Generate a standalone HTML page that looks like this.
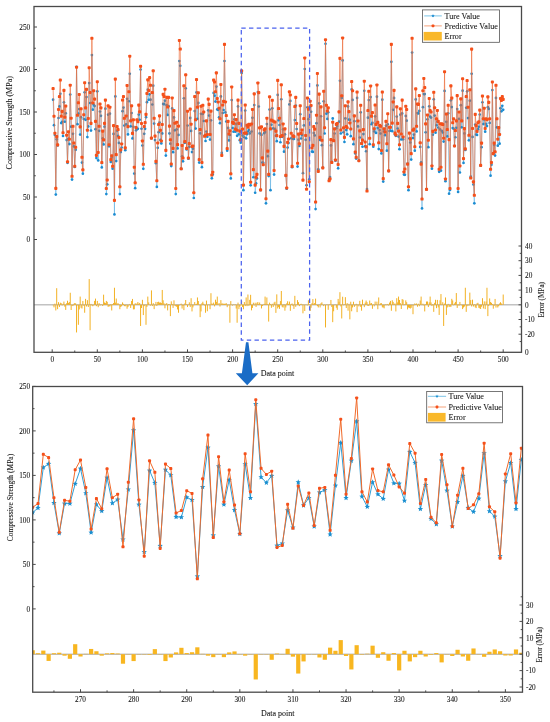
<!DOCTYPE html><html><head><meta charset="utf-8"><title>Compressive Strength Prediction</title><style>html,body{margin:0;padding:0;background:#fff;width:550px;height:722px;overflow:hidden}svg{display:block;filter:blur(0.3px)}</style></head><body><svg width="550" height="722" viewBox="0 0 550 722"><rect width="550" height="722" fill="#fff"/><clipPath id="c1"><rect x="34" y="6.5" width="487.5" height="345.8"/></clipPath><g clip-path="url(#c1)"><line x1="34" y1="304.8" x2="521.5" y2="304.8" stroke="#c2c2c2" stroke-width="1.5"/><g fill="#f2ad18"><rect x="52.63" y="304.8" width="0.95" height="0.45"/><rect x="53.53" y="304.8" width="0.95" height="2.56"/><rect x="54.43" y="303.64" width="0.95" height="1.16"/><rect x="55.33" y="304.8" width="0.95" height="5.65"/><rect x="56.23" y="288.19" width="0.95" height="16.61"/><rect x="57.14" y="304.8" width="0.95" height="4.39"/><rect x="58.04" y="302.16" width="0.95" height="2.64"/><rect x="58.94" y="304.8" width="0.95" height="2.19"/><rect x="59.84" y="302.69" width="0.95" height="2.11"/><rect x="60.74" y="303.2" width="0.95" height="1.6"/><rect x="61.65" y="304.8" width="0.95" height="0.61"/><rect x="62.55" y="303.78" width="0.95" height="1.02"/><rect x="63.45" y="301.57" width="0.95" height="3.23"/><rect x="64.35" y="304.8" width="0.95" height="1.95"/><rect x="65.26" y="304.8" width="0.95" height="5.1"/><rect x="66.16" y="303.25" width="0.95" height="1.55"/><rect x="67.06" y="300.73" width="0.95" height="4.07"/><rect x="67.96" y="302.96" width="0.95" height="1.84"/><rect x="68.86" y="301.99" width="0.95" height="2.81"/><rect x="69.77" y="292.75" width="0.95" height="12.05"/><rect x="70.67" y="304.8" width="0.95" height="5.2"/><rect x="71.57" y="304.8" width="0.95" height="0.74"/><rect x="72.47" y="304.8" width="0.95" height="1.29"/><rect x="73.37" y="303.79" width="0.95" height="1.01"/><rect x="74.28" y="303.04" width="0.95" height="1.76"/><rect x="75.18" y="303.35" width="0.95" height="1.45"/><rect x="76.08" y="304.8" width="0.95" height="27.64"/><rect x="76.98" y="304.8" width="0.95" height="0.52"/><rect x="77.88" y="304.8" width="0.95" height="19.99"/><rect x="78.79" y="304.8" width="0.95" height="4.63"/><rect x="79.69" y="296.57" width="0.95" height="8.23"/><rect x="80.59" y="304.8" width="0.95" height="2.96"/><rect x="81.49" y="304.8" width="0.95" height="3.71"/><rect x="82.39" y="300.97" width="0.95" height="3.83"/><rect x="83.3" y="304.8" width="0.95" height="0.89"/><rect x="84.2" y="304.8" width="0.95" height="7.94"/><rect x="85.1" y="298.85" width="0.95" height="5.95"/><rect x="86" y="304.8" width="0.95" height="1.69"/><rect x="86.9" y="300.16" width="0.95" height="4.64"/><rect x="87.81" y="304.8" width="0.95" height="2.19"/><rect x="88.71" y="279.07" width="0.95" height="25.73"/><rect x="89.61" y="304.8" width="0.95" height="25.43"/><rect x="90.51" y="303.89" width="0.95" height="0.91"/><rect x="91.41" y="304.8" width="0.95" height="0.65"/><rect x="92.32" y="304.8" width="0.95" height="1.43"/><rect x="93.22" y="304.8" width="0.95" height="0.56"/><rect x="94.12" y="300.88" width="0.95" height="3.92"/><rect x="95.02" y="298.6" width="0.95" height="6.2"/><rect x="95.92" y="304.8" width="0.95" height="1.36"/><rect x="96.83" y="300.91" width="0.95" height="3.89"/><rect x="97.73" y="304.8" width="0.95" height="2.41"/><rect x="98.63" y="303.05" width="0.95" height="1.75"/><rect x="99.53" y="304.8" width="0.95" height="0.8"/><rect x="100.43" y="304.24" width="0.95" height="0.56"/><rect x="101.34" y="304.74" width="0.95" height="0.3"/><rect x="102.24" y="304.8" width="0.95" height="1.23"/><rect x="103.14" y="294.66" width="0.95" height="10.14"/><rect x="104.04" y="302.46" width="0.95" height="2.34"/><rect x="104.94" y="303.1" width="0.95" height="1.7"/><rect x="105.85" y="300.91" width="0.95" height="3.89"/><rect x="106.75" y="301.81" width="0.95" height="2.99"/><rect x="107.65" y="304.8" width="0.95" height="2.05"/><rect x="108.55" y="304.8" width="0.95" height="1.43"/><rect x="109.45" y="304.8" width="0.95" height="1.61"/><rect x="110.36" y="304.06" width="0.95" height="0.74"/><rect x="111.26" y="304.8" width="0.95" height="5.66"/><rect x="112.16" y="304.14" width="0.95" height="0.66"/><rect x="113.06" y="303.1" width="0.95" height="1.7"/><rect x="113.96" y="287.75" width="0.95" height="17.05"/><rect x="114.87" y="302.58" width="0.95" height="2.22"/><rect x="115.77" y="298.54" width="0.95" height="6.26"/><rect x="116.67" y="303.67" width="0.95" height="1.13"/><rect x="117.57" y="303.15" width="0.95" height="1.65"/><rect x="118.47" y="304.21" width="0.95" height="0.59"/><rect x="119.38" y="304.8" width="0.95" height="4.42"/><rect x="120.28" y="304.8" width="0.95" height="2.2"/><rect x="121.18" y="304.8" width="0.95" height="1.37"/><rect x="122.08" y="302.39" width="0.95" height="2.41"/><rect x="122.98" y="303.87" width="0.95" height="0.93"/><rect x="123.89" y="304.8" width="0.95" height="1.32"/><rect x="124.79" y="304.8" width="0.95" height="1.46"/><rect x="125.69" y="304.76" width="0.95" height="0.3"/><rect x="126.59" y="304.8" width="0.95" height="3.91"/><rect x="127.49" y="304.8" width="0.95" height="2.24"/><rect x="128.4" y="304.8" width="0.95" height="0.58"/><rect x="129.3" y="303.94" width="0.95" height="0.86"/><rect x="130.2" y="304.8" width="0.95" height="3.14"/><rect x="131.1" y="300.94" width="0.95" height="3.86"/><rect x="132" y="298.92" width="0.95" height="5.88"/><rect x="132.91" y="304.8" width="0.95" height="4.57"/><rect x="133.81" y="304.8" width="0.95" height="4.48"/><rect x="134.71" y="303.2" width="0.95" height="1.6"/><rect x="135.61" y="303.92" width="0.95" height="0.88"/><rect x="136.51" y="303.43" width="0.95" height="1.37"/><rect x="137.41" y="302.01" width="0.95" height="2.79"/><rect x="138.32" y="303.81" width="0.95" height="0.99"/><rect x="139.22" y="302.94" width="0.95" height="1.86"/><rect x="140.12" y="304.8" width="0.95" height="21.17"/><rect x="141.02" y="304.8" width="0.95" height="3.21"/><rect x="141.93" y="299.82" width="0.95" height="4.98"/><rect x="142.83" y="304.8" width="0.95" height="10.29"/><rect x="143.73" y="304.8" width="0.95" height="1.34"/><rect x="144.63" y="304.54" width="0.95" height="0.3"/><rect x="145.53" y="304.8" width="0.95" height="19.99"/><rect x="146.44" y="304.8" width="0.95" height="2.05"/><rect x="147.34" y="296.57" width="0.95" height="8.23"/><rect x="148.24" y="302.37" width="0.95" height="2.43"/><rect x="149.14" y="304.8" width="0.95" height="0.3"/><rect x="150.04" y="304.8" width="0.95" height="0.78"/><rect x="150.95" y="290.39" width="0.95" height="14.41"/><rect x="151.85" y="304.8" width="0.95" height="1.26"/><rect x="152.75" y="303.12" width="0.95" height="1.68"/><rect x="153.65" y="304.8" width="0.95" height="4.34"/><rect x="154.55" y="304.8" width="0.95" height="0.62"/><rect x="155.46" y="301.9" width="0.95" height="2.9"/><rect x="156.36" y="304.8" width="0.95" height="1.22"/><rect x="157.26" y="302.03" width="0.95" height="2.77"/><rect x="158.16" y="301.72" width="0.95" height="3.08"/><rect x="159.06" y="302.62" width="0.95" height="2.18"/><rect x="159.97" y="302.44" width="0.95" height="2.36"/><rect x="160.87" y="303.01" width="0.95" height="1.79"/><rect x="161.77" y="289.95" width="0.95" height="14.85"/><rect x="162.67" y="300.26" width="0.95" height="4.54"/><rect x="163.57" y="303.32" width="0.95" height="1.48"/><rect x="164.47" y="304.8" width="0.95" height="3.51"/><rect x="165.38" y="303.78" width="0.95" height="1.02"/><rect x="166.28" y="303.03" width="0.95" height="1.77"/><rect x="167.18" y="304.8" width="0.95" height="5.59"/><rect x="168.08" y="304.03" width="0.95" height="0.77"/><rect x="168.99" y="304.31" width="0.95" height="0.49"/><rect x="169.89" y="304.8" width="0.95" height="11.32"/><rect x="170.79" y="301.34" width="0.95" height="3.46"/><rect x="171.69" y="303.94" width="0.95" height="0.86"/><rect x="172.59" y="304.8" width="0.95" height="3.11"/><rect x="173.5" y="300.31" width="0.95" height="4.49"/><rect x="174.4" y="304.8" width="0.95" height="0.83"/><rect x="175.3" y="304.8" width="0.95" height="1.42"/><rect x="176.2" y="304.8" width="0.95" height="1.96"/><rect x="177.1" y="304.8" width="0.95" height="4.64"/><rect x="178.01" y="304.8" width="0.95" height="7.94"/><rect x="178.91" y="304.8" width="0.95" height="0.66"/><rect x="179.81" y="304.35" width="0.95" height="0.45"/><rect x="180.71" y="303.63" width="0.95" height="1.17"/><rect x="181.61" y="304.8" width="0.95" height="3.76"/><rect x="182.52" y="304.8" width="0.95" height="0.91"/><rect x="183.42" y="304.8" width="0.95" height="5.33"/><rect x="184.32" y="303.45" width="0.95" height="1.35"/><rect x="185.22" y="299.99" width="0.95" height="4.81"/><rect x="186.12" y="304.29" width="0.95" height="0.51"/><rect x="187.03" y="304.8" width="0.95" height="2.25"/><rect x="187.93" y="304.8" width="0.95" height="0.3"/><rect x="188.83" y="302.32" width="0.95" height="2.48"/><rect x="189.73" y="304.8" width="0.95" height="2.22"/><rect x="190.63" y="298.19" width="0.95" height="6.62"/><rect x="191.53" y="304.8" width="0.95" height="6.62"/><rect x="192.44" y="304.8" width="0.95" height="2.57"/><rect x="193.34" y="304.8" width="0.95" height="0.51"/><rect x="194.24" y="302.06" width="0.95" height="2.74"/><rect x="195.14" y="304.25" width="0.95" height="0.55"/><rect x="196.04" y="303.8" width="0.95" height="1"/><rect x="196.95" y="297.45" width="0.95" height="7.35"/><rect x="197.85" y="301.05" width="0.95" height="3.75"/><rect x="198.75" y="304.8" width="0.95" height="0.3"/><rect x="199.65" y="304.8" width="0.95" height="12.35"/><rect x="200.56" y="304.8" width="0.95" height="6.62"/><rect x="201.46" y="303.13" width="0.95" height="1.67"/><rect x="202.36" y="301.72" width="0.95" height="3.08"/><rect x="203.26" y="303.71" width="0.95" height="1.09"/><rect x="204.16" y="304.8" width="0.95" height="0.69"/><rect x="205.07" y="304.8" width="0.95" height="7.94"/><rect x="205.97" y="300.61" width="0.95" height="4.19"/><rect x="206.87" y="304.8" width="0.95" height="6.46"/><rect x="207.77" y="304.72" width="0.95" height="0.3"/><rect x="208.67" y="304.8" width="0.95" height="0.37"/><rect x="209.58" y="304.8" width="0.95" height="4.41"/><rect x="210.48" y="293.19" width="0.95" height="11.61"/><rect x="211.38" y="303.45" width="0.95" height="1.35"/><rect x="212.28" y="303.87" width="0.95" height="0.93"/><rect x="213.18" y="302.57" width="0.95" height="2.23"/><rect x="214.09" y="304.8" width="0.95" height="1.61"/><rect x="214.99" y="299.67" width="0.95" height="5.13"/><rect x="215.89" y="301.88" width="0.95" height="2.92"/><rect x="216.79" y="296.57" width="0.95" height="8.23"/><rect x="217.69" y="304.45" width="0.95" height="0.35"/><rect x="218.59" y="302.99" width="0.95" height="1.81"/><rect x="219.5" y="304.8" width="0.95" height="1.75"/><rect x="220.4" y="300.09" width="0.95" height="4.71"/><rect x="221.3" y="303.51" width="0.95" height="1.29"/><rect x="222.2" y="303.53" width="0.95" height="1.27"/><rect x="223.1" y="303.73" width="0.95" height="1.07"/><rect x="224.01" y="303.76" width="0.95" height="1.04"/><rect x="224.91" y="303.7" width="0.95" height="1.1"/><rect x="225.81" y="303.2" width="0.95" height="1.6"/><rect x="226.71" y="304.8" width="0.95" height="2.39"/><rect x="227.62" y="304.8" width="0.95" height="0.67"/><rect x="228.52" y="304.8" width="0.95" height="0.3"/><rect x="229.42" y="304.8" width="0.95" height="17.93"/><rect x="230.32" y="301.07" width="0.95" height="3.73"/><rect x="231.22" y="304.8" width="0.95" height="0.32"/><rect x="232.13" y="304.8" width="0.95" height="0.82"/><rect x="233.03" y="304.47" width="0.95" height="0.33"/><rect x="233.93" y="304.8" width="0.95" height="0.3"/><rect x="234.83" y="304.31" width="0.95" height="0.49"/><rect x="235.73" y="304.8" width="0.95" height="3.72"/><rect x="236.64" y="304.8" width="0.95" height="17.93"/><rect x="237.54" y="302.6" width="0.95" height="2.2"/><rect x="238.44" y="304.8" width="0.95" height="4.36"/><rect x="239.34" y="304.8" width="0.95" height="2.02"/><rect x="240.24" y="304.8" width="0.95" height="0.53"/><rect x="241.15" y="300.98" width="0.95" height="3.82"/><rect x="242.05" y="304.8" width="0.95" height="2.21"/><rect x="242.95" y="304.8" width="0.95" height="4.46"/><rect x="243.85" y="302.05" width="0.95" height="2.75"/><rect x="244.75" y="304.8" width="0.95" height="1.28"/><rect x="245.66" y="297.45" width="0.95" height="7.35"/><rect x="246.56" y="304.8" width="0.95" height="1.34"/><rect x="247.46" y="294.51" width="0.95" height="10.29"/><rect x="248.36" y="304.8" width="0.95" height="0.91"/><rect x="249.26" y="299.83" width="0.95" height="4.97"/><rect x="250.16" y="294.8" width="0.95" height="10"/><rect x="251.07" y="304.8" width="0.95" height="5.55"/><rect x="251.97" y="304.8" width="0.95" height="3.12"/><rect x="252.87" y="302.68" width="0.95" height="2.12"/><rect x="253.77" y="304.8" width="0.95" height="0.57"/><rect x="254.68" y="302.7" width="0.95" height="2.1"/><rect x="255.58" y="304.8" width="0.95" height="2.14"/><rect x="256.48" y="302.68" width="0.95" height="2.12"/><rect x="257.38" y="302.05" width="0.95" height="2.75"/><rect x="258.28" y="304.13" width="0.95" height="0.67"/><rect x="259.19" y="302.48" width="0.95" height="2.32"/><rect x="260.09" y="304.53" width="0.95" height="0.3"/><rect x="260.99" y="304.8" width="0.95" height="3.65"/><rect x="261.89" y="304.8" width="0.95" height="1.23"/><rect x="262.79" y="304.8" width="0.95" height="0.31"/><rect x="263.69" y="303.86" width="0.95" height="0.94"/><rect x="264.6" y="296.57" width="0.95" height="8.23"/><rect x="265.5" y="303.75" width="0.95" height="1.05"/><rect x="266.4" y="297.45" width="0.95" height="7.35"/><rect x="267.3" y="304.17" width="0.95" height="0.63"/><rect x="268.2" y="304.8" width="0.95" height="16.76"/><rect x="269.11" y="302.65" width="0.95" height="2.15"/><rect x="270.01" y="304.08" width="0.95" height="0.72"/><rect x="270.91" y="304.8" width="0.95" height="2.98"/><rect x="271.81" y="303.76" width="0.95" height="1.04"/><rect x="272.71" y="304.8" width="0.95" height="2.19"/><rect x="273.62" y="302.49" width="0.95" height="2.31"/><rect x="274.52" y="301.75" width="0.95" height="3.05"/><rect x="275.42" y="304.8" width="0.95" height="8.08"/><rect x="276.32" y="294.36" width="0.95" height="10.44"/><rect x="277.22" y="304.8" width="0.95" height="3.68"/><rect x="278.13" y="304.8" width="0.95" height="2.3"/><rect x="279.03" y="304.8" width="0.95" height="4.05"/><rect x="279.93" y="301.05" width="0.95" height="3.75"/><rect x="280.83" y="290.98" width="0.95" height="13.82"/><rect x="281.74" y="304.8" width="0.95" height="2.3"/><rect x="282.64" y="304.8" width="0.95" height="2.75"/><rect x="283.54" y="304.26" width="0.95" height="0.54"/><rect x="284.44" y="304.8" width="0.95" height="5.88"/><rect x="285.34" y="304.8" width="0.95" height="2.67"/><rect x="286.25" y="303.34" width="0.95" height="1.46"/><rect x="287.15" y="301.27" width="0.95" height="3.53"/><rect x="288.05" y="303.92" width="0.95" height="0.88"/><rect x="288.95" y="301.57" width="0.95" height="3.23"/><rect x="289.85" y="304.8" width="0.95" height="6.03"/><rect x="290.75" y="303.92" width="0.95" height="0.88"/><rect x="291.66" y="303.48" width="0.95" height="1.32"/><rect x="292.56" y="304.8" width="0.95" height="1.32"/><rect x="293.46" y="304.8" width="0.95" height="4.12"/><rect x="294.36" y="295.83" width="0.95" height="8.97"/><rect x="295.26" y="304.8" width="0.95" height="2.06"/><rect x="296.17" y="304.51" width="0.95" height="0.3"/><rect x="297.07" y="300.1" width="0.95" height="4.7"/><rect x="297.97" y="302.15" width="0.95" height="2.65"/><rect x="298.87" y="304.8" width="0.95" height="1.32"/><rect x="299.77" y="304.06" width="0.95" height="0.74"/><rect x="300.68" y="303.77" width="0.95" height="1.03"/><rect x="301.58" y="304.21" width="0.95" height="0.59"/><rect x="302.48" y="304.8" width="0.95" height="8.53"/><rect x="303.38" y="304.65" width="0.95" height="0.3"/><rect x="304.28" y="304.8" width="0.95" height="6.17"/><rect x="305.19" y="304.65" width="0.95" height="0.3"/><rect x="306.09" y="304.8" width="0.95" height="0.3"/><rect x="306.99" y="304.8" width="0.95" height="0.59"/><rect x="307.89" y="300.24" width="0.95" height="4.56"/><rect x="308.79" y="304.65" width="0.95" height="0.3"/><rect x="309.7" y="304.8" width="0.95" height="6.17"/><rect x="310.6" y="304.8" width="0.95" height="2.94"/><rect x="311.5" y="303.18" width="0.95" height="1.62"/><rect x="312.4" y="299.07" width="0.95" height="5.73"/><rect x="313.3" y="303.77" width="0.95" height="1.03"/><rect x="314.21" y="303.04" width="0.95" height="1.76"/><rect x="315.11" y="298.63" width="0.95" height="6.17"/><rect x="316.01" y="304.51" width="0.95" height="0.3"/><rect x="316.91" y="304.8" width="0.95" height="1.32"/><rect x="317.81" y="304.8" width="0.95" height="2.65"/><rect x="318.72" y="304.65" width="0.95" height="0.3"/><rect x="319.62" y="304.8" width="0.95" height="2.65"/><rect x="320.52" y="303.18" width="0.95" height="1.62"/><rect x="321.42" y="302.3" width="0.95" height="2.5"/><rect x="322.32" y="304.65" width="0.95" height="0.3"/><rect x="323.23" y="304.8" width="0.95" height="1.32"/><rect x="324.13" y="304.65" width="0.95" height="0.3"/><rect x="325.03" y="304.8" width="0.95" height="22.64"/><rect x="325.93" y="304.65" width="0.95" height="0.3"/><rect x="326.83" y="304.65" width="0.95" height="0.3"/><rect x="327.74" y="304.8" width="0.95" height="5"/><rect x="328.64" y="304.21" width="0.95" height="0.59"/><rect x="329.54" y="304.65" width="0.95" height="0.3"/><rect x="330.44" y="299.95" width="0.95" height="4.85"/><rect x="331.34" y="304.8" width="0.95" height="2.2"/><rect x="332.25" y="304.8" width="0.95" height="17.35"/><rect x="333.15" y="304.8" width="0.95" height="6.47"/><rect x="334.05" y="304.8" width="0.95" height="0.3"/><rect x="334.95" y="304.65" width="0.95" height="0.3"/><rect x="335.85" y="304.8" width="0.95" height="2.94"/><rect x="336.76" y="304.8" width="0.95" height="5"/><rect x="337.66" y="298.92" width="0.95" height="5.88"/><rect x="338.56" y="301.71" width="0.95" height="3.09"/><rect x="339.46" y="292.16" width="0.95" height="12.64"/><rect x="340.36" y="304.8" width="0.95" height="1.62"/><rect x="341.27" y="304.8" width="0.95" height="13.67"/><rect x="342.17" y="296.72" width="0.95" height="8.08"/><rect x="343.07" y="304.8" width="0.95" height="0.44"/><rect x="343.97" y="304.36" width="0.95" height="0.44"/><rect x="344.88" y="297.16" width="0.95" height="7.64"/><rect x="345.78" y="304.8" width="0.95" height="3.23"/><rect x="346.68" y="303.04" width="0.95" height="1.76"/><rect x="347.58" y="304.8" width="0.95" height="5.88"/><rect x="348.48" y="303.77" width="0.95" height="1.03"/><rect x="349.38" y="304.8" width="0.95" height="14.55"/><rect x="350.29" y="301.71" width="0.95" height="3.09"/><rect x="351.19" y="304.8" width="0.95" height="6.47"/><rect x="352.09" y="304.8" width="0.95" height="2.65"/><rect x="352.99" y="301.71" width="0.95" height="3.09"/><rect x="353.89" y="304.8" width="0.95" height="2.06"/><rect x="354.8" y="304.8" width="0.95" height="0.59"/><rect x="355.7" y="303.77" width="0.95" height="1.03"/><rect x="356.6" y="304.8" width="0.95" height="7.35"/><rect x="357.5" y="304.65" width="0.95" height="0.3"/><rect x="358.4" y="304.8" width="0.95" height="1.62"/><rect x="359.31" y="300.83" width="0.95" height="3.97"/><rect x="360.21" y="304.8" width="0.95" height="2.06"/><rect x="361.11" y="304.8" width="0.95" height="5.88"/><rect x="362.01" y="299.66" width="0.95" height="5.14"/><rect x="362.91" y="304.65" width="0.95" height="0.3"/><rect x="363.82" y="304.8" width="0.95" height="2.35"/><rect x="364.72" y="302.6" width="0.95" height="2.2"/><rect x="365.62" y="300.54" width="0.95" height="4.26"/><rect x="366.52" y="302.15" width="0.95" height="2.65"/><rect x="367.42" y="304.8" width="0.95" height="1.18"/><rect x="368.33" y="304.8" width="0.95" height="1.18"/><rect x="369.23" y="300.54" width="0.95" height="4.26"/><rect x="370.13" y="303.48" width="0.95" height="1.32"/><rect x="371.03" y="303.1" width="0.95" height="1.7"/><rect x="371.94" y="304.8" width="0.95" height="3.99"/><rect x="372.84" y="304.37" width="0.95" height="0.43"/><rect x="373.74" y="304.8" width="0.95" height="1.56"/><rect x="374.64" y="301.56" width="0.95" height="3.24"/><rect x="375.54" y="304.67" width="0.95" height="0.3"/><rect x="376.44" y="301.63" width="0.95" height="3.17"/><rect x="377.35" y="304.8" width="0.95" height="4.41"/><rect x="378.25" y="297.45" width="0.95" height="7.35"/><rect x="379.15" y="304.8" width="0.95" height="0.3"/><rect x="380.05" y="303.38" width="0.95" height="1.42"/><rect x="380.95" y="303.16" width="0.95" height="1.64"/><rect x="381.86" y="304.8" width="0.95" height="2.53"/><rect x="382.76" y="304.8" width="0.95" height="2.73"/><rect x="383.66" y="304.8" width="0.95" height="3.55"/><rect x="384.56" y="304.8" width="0.95" height="0.52"/><rect x="385.46" y="304.11" width="0.95" height="0.69"/><rect x="386.37" y="304.8" width="0.95" height="0.43"/><rect x="387.27" y="303.95" width="0.95" height="0.85"/><rect x="388.17" y="304.8" width="0.95" height="0.75"/><rect x="389.07" y="302.54" width="0.95" height="2.26"/><rect x="389.97" y="300.91" width="0.95" height="3.89"/><rect x="390.88" y="304.8" width="0.95" height="5.95"/><rect x="391.78" y="300.23" width="0.95" height="4.57"/><rect x="392.68" y="301.9" width="0.95" height="2.9"/><rect x="393.58" y="304.06" width="0.95" height="0.74"/><rect x="394.48" y="303.38" width="0.95" height="1.42"/><rect x="395.39" y="304.8" width="0.95" height="6.62"/><rect x="396.29" y="298.19" width="0.95" height="6.62"/><rect x="397.19" y="302.36" width="0.95" height="2.44"/><rect x="398.09" y="296.57" width="0.95" height="8.23"/><rect x="398.99" y="299.97" width="0.95" height="4.83"/><rect x="399.9" y="303.14" width="0.95" height="1.66"/><rect x="400.8" y="304.8" width="0.95" height="4.19"/><rect x="401.7" y="299.07" width="0.95" height="5.73"/><rect x="402.6" y="299.69" width="0.95" height="5.11"/><rect x="403.5" y="304.8" width="0.95" height="0.48"/><rect x="404.41" y="304.13" width="0.95" height="0.67"/><rect x="405.31" y="300.34" width="0.95" height="4.46"/><rect x="406.21" y="302.17" width="0.95" height="2.63"/><rect x="407.11" y="304.8" width="0.95" height="4.62"/><rect x="408.01" y="304.8" width="0.95" height="2.72"/><rect x="408.92" y="304.8" width="0.95" height="3.16"/><rect x="409.82" y="304.8" width="0.95" height="3.76"/><rect x="410.72" y="304.8" width="0.95" height="3"/><rect x="411.62" y="304.8" width="0.95" height="0.55"/><rect x="412.52" y="304.8" width="0.95" height="9.41"/><rect x="413.43" y="304.8" width="0.95" height="0.62"/><rect x="414.33" y="303.41" width="0.95" height="1.39"/><rect x="415.23" y="304.1" width="0.95" height="0.7"/><rect x="416.13" y="303.42" width="0.95" height="1.38"/><rect x="417.03" y="304.8" width="0.95" height="1.93"/><rect x="417.94" y="303.73" width="0.95" height="1.07"/><rect x="418.84" y="304.8" width="0.95" height="1.44"/><rect x="419.74" y="300.5" width="0.95" height="4.3"/><rect x="420.64" y="296.57" width="0.95" height="8.23"/><rect x="421.54" y="304.8" width="0.95" height="0.34"/><rect x="422.45" y="303.65" width="0.95" height="1.15"/><rect x="423.35" y="304.8" width="0.95" height="0.65"/><rect x="424.25" y="304.8" width="0.95" height="6.62"/><rect x="425.15" y="304.26" width="0.95" height="0.54"/><rect x="426.05" y="301.52" width="0.95" height="3.28"/><rect x="426.96" y="301.47" width="0.95" height="3.33"/><rect x="427.86" y="304.8" width="0.95" height="2.25"/><rect x="428.76" y="302.32" width="0.95" height="2.48"/><rect x="429.66" y="296.57" width="0.95" height="8.23"/><rect x="430.56" y="302.43" width="0.95" height="2.37"/><rect x="431.47" y="304.8" width="0.95" height="1.27"/><rect x="432.37" y="304.1" width="0.95" height="0.7"/><rect x="433.27" y="304.8" width="0.95" height="7.06"/><rect x="434.17" y="302.81" width="0.95" height="1.99"/><rect x="435.07" y="299.76" width="0.95" height="5.04"/><rect x="435.98" y="304.8" width="0.95" height="3.35"/><rect x="436.88" y="299.91" width="0.95" height="4.89"/><rect x="437.78" y="304.8" width="0.95" height="2.62"/><rect x="438.68" y="304.8" width="0.95" height="10.14"/><rect x="439.58" y="300.22" width="0.95" height="4.58"/><rect x="440.49" y="294.07" width="0.95" height="10.73"/><rect x="441.39" y="304.8" width="0.95" height="0.3"/><rect x="442.29" y="302.21" width="0.95" height="2.59"/><rect x="443.19" y="304.8" width="0.95" height="21.17"/><rect x="444.09" y="303.56" width="0.95" height="1.24"/><rect x="445" y="297.45" width="0.95" height="7.35"/><rect x="445.9" y="304.8" width="0.95" height="10.14"/><rect x="446.8" y="304.8" width="0.95" height="2.65"/><rect x="447.7" y="303.84" width="0.95" height="0.96"/><rect x="448.6" y="304.8" width="0.95" height="2.24"/><rect x="449.51" y="304.8" width="0.95" height="1.74"/><rect x="450.41" y="304.8" width="0.95" height="2.12"/><rect x="451.31" y="298.81" width="0.95" height="5.99"/><rect x="452.21" y="300.42" width="0.95" height="4.38"/><rect x="453.11" y="304.8" width="0.95" height="0.45"/><rect x="454.02" y="303.47" width="0.95" height="1.33"/><rect x="454.92" y="301.95" width="0.95" height="2.85"/><rect x="455.82" y="293.04" width="0.95" height="11.76"/><rect x="456.72" y="304.8" width="0.95" height="3.1"/><rect x="457.62" y="304.29" width="0.95" height="0.51"/><rect x="458.53" y="304.8" width="0.95" height="0.94"/><rect x="459.43" y="301.91" width="0.95" height="2.89"/><rect x="460.33" y="304.55" width="0.95" height="0.3"/><rect x="461.23" y="304.8" width="0.95" height="0.52"/><rect x="462.13" y="304.8" width="0.95" height="4.28"/><rect x="463.04" y="304.8" width="0.95" height="2.76"/><rect x="463.94" y="304.8" width="0.95" height="1.77"/><rect x="464.84" y="287.75" width="0.95" height="17.05"/><rect x="465.74" y="304.8" width="0.95" height="7.06"/><rect x="466.64" y="304.8" width="0.95" height="1.38"/><rect x="467.55" y="304.43" width="0.95" height="0.37"/><rect x="468.45" y="304.8" width="0.95" height="0.96"/><rect x="469.35" y="292.6" width="0.95" height="12.2"/><rect x="470.25" y="300.06" width="0.95" height="4.74"/><rect x="471.15" y="304.8" width="0.95" height="1.67"/><rect x="472.06" y="299.66" width="0.95" height="5.14"/><rect x="472.96" y="304.8" width="0.95" height="1.71"/><rect x="473.86" y="304.26" width="0.95" height="0.54"/><rect x="474.76" y="304.8" width="0.95" height="2.64"/><rect x="475.66" y="304.8" width="0.95" height="3.31"/><rect x="476.57" y="303.31" width="0.95" height="1.49"/><rect x="477.47" y="302.77" width="0.95" height="2.03"/><rect x="478.37" y="304.8" width="0.95" height="3.03"/><rect x="479.27" y="304.8" width="0.95" height="3.54"/><rect x="480.17" y="304.8" width="0.95" height="4.2"/><rect x="481.08" y="304.8" width="0.95" height="1.95"/><rect x="481.98" y="298.19" width="0.95" height="6.62"/><rect x="482.88" y="304.8" width="0.95" height="3.69"/><rect x="483.78" y="301.37" width="0.95" height="3.43"/><rect x="484.69" y="304.8" width="0.95" height="4.33"/><rect x="485.59" y="301.48" width="0.95" height="3.32"/><rect x="486.49" y="287.75" width="0.95" height="17.05"/><rect x="487.39" y="304.8" width="0.95" height="11.32"/><rect x="488.29" y="304.8" width="0.95" height="1.13"/><rect x="489.19" y="298.41" width="0.95" height="6.39"/><rect x="490.1" y="302" width="0.95" height="2.8"/><rect x="491" y="302.86" width="0.95" height="1.94"/><rect x="491.9" y="303.99" width="0.95" height="0.81"/><rect x="492.8" y="304.8" width="0.95" height="3.89"/><rect x="493.7" y="304.8" width="0.95" height="1.03"/><rect x="494.61" y="298.92" width="0.95" height="5.88"/><rect x="495.51" y="304.8" width="0.95" height="2.78"/><rect x="496.41" y="304.8" width="0.95" height="0.36"/><rect x="497.31" y="304.8" width="0.95" height="2.7"/><rect x="498.21" y="304.8" width="0.95" height="1.4"/><rect x="499.12" y="303.42" width="0.95" height="1.38"/><rect x="500.02" y="302.2" width="0.95" height="2.6"/><rect x="500.92" y="303.44" width="0.95" height="1.36"/><rect x="501.82" y="304.58" width="0.95" height="0.3"/><rect x="502.72" y="294.51" width="0.95" height="10.29"/></g><polyline points="53.1,99.7 54,125.14 54.91,134.92 55.81,194.62 56.71,139.3 57.61,145.5 58.51,117.99 59.42,106.43 60.32,93.73 61.22,123.05 62.12,121.79 63.02,135.98 63.93,102.25 64.83,121.75 65.73,113.24 66.63,140.07 67.53,162.79 68.44,138.58 69.34,144.05 70.24,94.49 71.14,126.63 72.04,179.55 72.95,133.87 73.85,146.41 74.75,167 75.65,149.84 76.55,66.95 77.46,124.18 78.36,113.54 79.26,109 80.16,134.6 81.06,117.13 81.97,162.53 82.87,173.64 83.77,118.99 84.67,92.37 85.57,119.83 86.48,97.08 87.38,137.03 88.28,126.46 89.18,83.06 90.08,103.02 90.99,130.58 91.89,55.05 92.79,109.69 93.69,104.58 94.59,106.03 95.5,129.15 96.4,158.03 97.3,91.28 98.2,160.47 99.1,130.84 100.01,111.52 100.91,115.86 101.81,167.45 102.71,138.28 103.61,144.47 104.52,126.68 105.42,108.71 106.32,194.03 107.22,184.28 108.12,114.64 109.03,146.34 109.93,113.63 110.83,161.95 111.73,157.52 112.63,168.71 113.54,133.94 114.44,214.43 115.34,96.39 116.24,161.11 117.14,130.76 118.05,135.93 118.95,142.9 119.85,194.03 120.75,152.11 121.65,147.51 122.56,111.2 123.46,107.58 124.36,125.62 125.26,150.21 126.16,124.3 127.07,98.77 127.97,134.39 128.87,101.25 129.77,73.75 130.67,126.37 131.58,113 132.48,138.38 133.38,126.74 134.28,173.6 135.18,188.16 136.09,130.29 136.99,128.84 137.89,128.81 138.79,114.56 139.69,119.73 140.6,69.5 141.5,128.75 142.4,145.49 143.3,168.87 144.2,133.84 145.11,128.84 146.01,117.17 146.91,102.14 147.81,89.63 148.71,99.86 149.62,94.35 150.52,99.71 151.42,138.19 152.32,104.48 153.22,85.68 154.13,123.59 155.03,140.12 155.93,163.19 156.83,186.9 157.73,147.86 158.64,132.21 159.54,122.5 160.44,139.91 161.34,143.39 162.24,133.38 163.15,103.92 164.05,104.2 164.95,100.68 165.85,155.56 166.75,105.17 167.66,114.97 168.56,106.18 169.46,133.42 170.36,143.72 171.26,166.12 172.17,108.47 173.07,152.15 173.97,117.41 174.87,130.32 175.77,194.03 176.68,129.41 177.58,148.41 178.48,134.9 179.38,61 180.28,65.75 181.19,168.9 182.09,156.24 182.99,161.34 183.89,98.23 184.79,142.84 185.7,88.35 186.6,149.5 187.5,125.62 188.4,158.7 189.3,146.86 190.21,117.89 191.11,130.93 192.01,152.11 192.91,148.67 193.81,198.02 194.72,111.03 195.62,128.61 196.52,92.39 197.42,118.78 198.32,102.93 199.23,162.56 200.13,133.28 201.03,113.81 201.93,167.2 202.83,113.91 203.74,121.01 204.64,135.48 205.54,141 206.44,131.5 207.34,136.68 208.25,110.31 209.15,115.62 210.05,139.62 210.95,120.3 211.85,178.36 212.76,174.48 213.66,92.95 214.56,95.64 215.46,101.56 216.36,86.62 217.27,109.42 218.17,109.96 219.07,117.37 219.97,123.16 220.87,96.46 221.78,152.88 222.68,113 223.58,110 224.48,61 225.38,112.47 226.29,121.52 227.19,150.7 228.09,127.94 228.99,140.39 229.89,134.99 230.8,178.45 231.7,100.05 232.6,128 233.5,131.77 234.4,119.24 235.31,131.66 236.21,123.87 237.11,135.79 238.01,106.43 238.91,134.35 239.82,140.2 240.72,142.72 241.62,72.9 242.52,135.72 243.42,190.2 244.33,137.25 245.23,110.51 246.13,138.3 247.03,134.21 247.93,131.48 248.84,129.85 249.74,133.42 250.64,185.32 251.54,131.48 252.44,117.87 253.35,177.26 254.25,104.99 255.15,192.75 256.05,183.29 256.95,178.39 257.86,92.08 258.76,106.48 259.66,133.45 260.56,190.2 261.46,134.96 262.37,162.56 263.27,162.83 264.17,133.18 265.07,131.89 265.97,203.29 266.88,124.09 267.78,156.18 268.68,176.1 269.58,109.61 270.48,190.2 271.39,124.75 272.29,108.35 273.19,128.43 274.09,174.6 274.99,128.97 275.9,135.76 276.8,141.17 277.7,94.89 278.6,120.14 279.5,125 280.41,142.23 281.31,99.23 282.21,136.85 283.11,129.28 284.01,151.65 284.92,134.33 285.82,175.94 286.72,188.67 287.62,147.53 288.52,143.03 289.43,104.44 290.33,100.95 291.23,138.35 292.13,167.25 293.03,138.94 293.94,138.94 294.84,120.08 295.74,105.54 296.64,129 297.54,166.57 298.45,139.71 299.35,146 300.25,114.21 301.15,138.52 302.05,135.12 302.96,173.2 303.86,125.43 304.76,68.99 305.66,139.8 306.56,185.19 307.47,107.33 308.37,119.14 309.27,179.32 310.17,106.56 311.07,111.83 311.98,151.61 312.88,151.95 313.78,132.91 314.68,135.46 315.58,209.07 316.49,123.14 317.39,85.39 318.29,169.29 319.19,103.33 320.09,139.88 321,116.25 321.9,145.15 322.8,167.84 323.7,101.29 324.6,133.5 325.51,43.83 326.41,113.7 327.31,118.97 328.21,112.34 329.11,179.06 330.02,177.03 330.92,145.41 331.82,161.73 332.72,118.46 333.62,140.65 334.53,133.5 335.43,160.7 336.33,128.24 337.23,126.03 338.13,168.36 339.04,121.69 339.94,80.81 340.84,133.5 341.74,97.89 342.64,60.41 343.55,132.23 344.45,142 345.35,118.46 346.25,130.02 347.15,134.36 348.06,106.39 348.96,119.57 349.86,119.82 350.76,136.14 351.66,89.47 352.57,99.93 353.47,144.13 354.37,121.18 355.27,153.4 356.17,158.58 357.08,97.89 357.98,126.45 358.88,160.7 359.78,137.5 360.68,112.34 361.59,143.03 362.49,146.76 363.39,134.1 364.29,90.75 365.19,146.17 366.1,151.27 367,189.01 367.9,117.69 368.8,100.1 369.7,144.13 370.61,97.12 371.51,124.27 372.41,122.8 373.31,146.7 374.21,131.44 375.12,116.31 376.02,132.91 376.92,96.65 377.82,128.1 378.72,149.05 379.63,130.05 380.53,133.48 381.43,153.39 382.33,99.7 383.23,181.54 384.14,131.46 385.04,135.17 385.94,125.85 386.84,150.63 387.74,124.23 388.65,171.08 389.55,130.99 390.45,130.63 391.35,61.85 392.25,131.22 393.16,109.87 394.06,97.9 394.96,134.46 395.86,135.78 396.76,116.58 397.67,128.49 398.57,136.57 399.47,149.2 400.37,114.7 401.27,139.52 402.18,113.39 403.08,139.29 403.98,174.59 404.88,174.78 405.78,115.92 406.69,120.69 407.59,163.68 408.49,190.2 409.39,138.31 410.29,142.52 411.2,159.62 412.1,52.5 413,138.1 413.9,134.6 414.8,150.68 415.71,99.44 416.61,131.42 417.51,113.07 418.41,113.51 419.31,110.92 420.22,146.88 421.12,162.24 422.02,208.47 422.92,107.2 423.82,94.1 424.73,94.03 425.63,132.3 426.53,189.14 427.43,119.33 428.33,147.15 429.24,106.23 430.14,116.59 431.04,117.54 431.94,168.72 432.84,134.64 433.75,99.29 434.65,115.62 435.55,132.66 436.45,125.19 437.35,121.72 438.26,127.62 439.16,171.87 440.06,129.38 440.96,170.63 441.86,130.93 442.77,132.51 443.67,141.54 444.57,90.96 445.47,181.14 446.37,121.83 447.28,136.39 448.18,113.31 449.08,193.69 449.98,189.88 450.88,100.37 451.79,107.08 452.69,128 453.59,128.65 454.49,145.96 455.39,137.25 456.3,127.74 457.2,109.09 458.1,191.9 459,118.87 459.9,172.51 460.81,105.15 461.71,127.29 462.61,90.66 463.51,162.96 464.41,133.44 465.32,149.89 466.22,107.74 467.12,91.33 468.02,118.08 468.92,140.37 469.83,100.67 470.73,176.68 471.63,73.75 472.53,136.94 473.43,184.51 474.34,203.29 475.24,124.59 476.14,134.53 477.04,134.99 477.94,129.18 478.85,126.74 479.75,114.52 480.65,165.64 481.55,147.17 482.45,102.27 483.36,124.08 484.26,119.47 485.16,131.64 486.06,123.73 486.96,126.06 487.87,107.15 488.77,108.96 489.67,122.92 490.57,175.7 491.47,164.76 492.38,90.1 493.28,153.36 494.18,145.02 495.08,155.55 495.98,97.95 496.89,127.29 497.79,145.7 498.69,127.5 499.59,143.72 500.49,108.17 501.4,111.32 502.3,105.83 503.2,109.81" fill="none" stroke="#46a5dc" stroke-width="0.5" stroke-linejoin="round"/><g fill="#1b8cd2"><circle cx="53.1" cy="99.7" r="1.35"/><circle cx="54" cy="125.14" r="1.35"/><circle cx="54.91" cy="134.92" r="1.35"/><circle cx="55.81" cy="194.62" r="1.35"/><circle cx="56.71" cy="139.3" r="1.35"/><circle cx="57.61" cy="145.5" r="1.35"/><circle cx="58.51" cy="117.99" r="1.35"/><circle cx="59.42" cy="106.43" r="1.35"/><circle cx="60.32" cy="93.73" r="1.35"/><circle cx="61.22" cy="123.05" r="1.35"/><circle cx="62.12" cy="121.79" r="1.35"/><circle cx="63.02" cy="135.98" r="1.35"/><circle cx="63.93" cy="102.25" r="1.35"/><circle cx="64.83" cy="121.75" r="1.35"/><circle cx="65.73" cy="113.24" r="1.35"/><circle cx="66.63" cy="140.07" r="1.35"/><circle cx="67.53" cy="162.79" r="1.35"/><circle cx="68.44" cy="138.58" r="1.35"/><circle cx="69.34" cy="144.05" r="1.35"/><circle cx="70.24" cy="94.49" r="1.35"/><circle cx="71.14" cy="126.63" r="1.35"/><circle cx="72.04" cy="179.55" r="1.35"/><circle cx="72.95" cy="133.87" r="1.35"/><circle cx="73.85" cy="146.41" r="1.35"/><circle cx="74.75" cy="167" r="1.35"/><circle cx="75.65" cy="149.84" r="1.35"/><circle cx="76.55" cy="66.95" r="1.35"/><circle cx="77.46" cy="124.18" r="1.35"/><circle cx="78.36" cy="113.54" r="1.35"/><circle cx="79.26" cy="109" r="1.35"/><circle cx="80.16" cy="134.6" r="1.35"/><circle cx="81.06" cy="117.13" r="1.35"/><circle cx="81.97" cy="162.53" r="1.35"/><circle cx="82.87" cy="173.64" r="1.35"/><circle cx="83.77" cy="118.99" r="1.35"/><circle cx="84.67" cy="92.37" r="1.35"/><circle cx="85.57" cy="119.83" r="1.35"/><circle cx="86.48" cy="97.08" r="1.35"/><circle cx="87.38" cy="137.03" r="1.35"/><circle cx="88.28" cy="126.46" r="1.35"/><circle cx="89.18" cy="83.06" r="1.35"/><circle cx="90.08" cy="103.02" r="1.35"/><circle cx="90.99" cy="130.58" r="1.35"/><circle cx="91.89" cy="55.05" r="1.35"/><circle cx="92.79" cy="109.69" r="1.35"/><circle cx="93.69" cy="104.58" r="1.35"/><circle cx="94.59" cy="106.03" r="1.35"/><circle cx="95.5" cy="129.15" r="1.35"/><circle cx="96.4" cy="158.03" r="1.35"/><circle cx="97.3" cy="91.28" r="1.35"/><circle cx="98.2" cy="160.47" r="1.35"/><circle cx="99.1" cy="130.84" r="1.35"/><circle cx="100.01" cy="111.52" r="1.35"/><circle cx="100.91" cy="115.86" r="1.35"/><circle cx="101.81" cy="167.45" r="1.35"/><circle cx="102.71" cy="138.28" r="1.35"/><circle cx="103.61" cy="144.47" r="1.35"/><circle cx="104.52" cy="126.68" r="1.35"/><circle cx="105.42" cy="108.71" r="1.35"/><circle cx="106.32" cy="194.03" r="1.35"/><circle cx="107.22" cy="184.28" r="1.35"/><circle cx="108.12" cy="114.64" r="1.35"/><circle cx="109.03" cy="146.34" r="1.35"/><circle cx="109.93" cy="113.63" r="1.35"/><circle cx="110.83" cy="161.95" r="1.35"/><circle cx="111.73" cy="157.52" r="1.35"/><circle cx="112.63" cy="168.71" r="1.35"/><circle cx="113.54" cy="133.94" r="1.35"/><circle cx="114.44" cy="214.43" r="1.35"/><circle cx="115.34" cy="96.39" r="1.35"/><circle cx="116.24" cy="161.11" r="1.35"/><circle cx="117.14" cy="130.76" r="1.35"/><circle cx="118.05" cy="135.93" r="1.35"/><circle cx="118.95" cy="142.9" r="1.35"/><circle cx="119.85" cy="194.03" r="1.35"/><circle cx="120.75" cy="152.11" r="1.35"/><circle cx="121.65" cy="147.51" r="1.35"/><circle cx="122.56" cy="111.2" r="1.35"/><circle cx="123.46" cy="107.58" r="1.35"/><circle cx="124.36" cy="125.62" r="1.35"/><circle cx="125.26" cy="150.21" r="1.35"/><circle cx="126.16" cy="124.3" r="1.35"/><circle cx="127.07" cy="98.77" r="1.35"/><circle cx="127.97" cy="134.39" r="1.35"/><circle cx="128.87" cy="101.25" r="1.35"/><circle cx="129.77" cy="73.75" r="1.35"/><circle cx="130.67" cy="126.37" r="1.35"/><circle cx="131.58" cy="113" r="1.35"/><circle cx="132.48" cy="138.38" r="1.35"/><circle cx="133.38" cy="126.74" r="1.35"/><circle cx="134.28" cy="173.6" r="1.35"/><circle cx="135.18" cy="188.16" r="1.35"/><circle cx="136.09" cy="130.29" r="1.35"/><circle cx="136.99" cy="128.84" r="1.35"/><circle cx="137.89" cy="128.81" r="1.35"/><circle cx="138.79" cy="114.56" r="1.35"/><circle cx="139.69" cy="119.73" r="1.35"/><circle cx="140.6" cy="69.5" r="1.35"/><circle cx="141.5" cy="128.75" r="1.35"/><circle cx="142.4" cy="145.49" r="1.35"/><circle cx="143.3" cy="168.87" r="1.35"/><circle cx="144.2" cy="133.84" r="1.35"/><circle cx="145.11" cy="128.84" r="1.35"/><circle cx="146.01" cy="117.17" r="1.35"/><circle cx="146.91" cy="102.14" r="1.35"/><circle cx="147.81" cy="89.63" r="1.35"/><circle cx="148.71" cy="99.86" r="1.35"/><circle cx="149.62" cy="94.35" r="1.35"/><circle cx="150.52" cy="99.71" r="1.35"/><circle cx="151.42" cy="138.19" r="1.35"/><circle cx="152.32" cy="104.48" r="1.35"/><circle cx="153.22" cy="85.68" r="1.35"/><circle cx="154.13" cy="123.59" r="1.35"/><circle cx="155.03" cy="140.12" r="1.35"/><circle cx="155.93" cy="163.19" r="1.35"/><circle cx="156.83" cy="186.9" r="1.35"/><circle cx="157.73" cy="147.86" r="1.35"/><circle cx="158.64" cy="132.21" r="1.35"/><circle cx="159.54" cy="122.5" r="1.35"/><circle cx="160.44" cy="139.91" r="1.35"/><circle cx="161.34" cy="143.39" r="1.35"/><circle cx="162.24" cy="133.38" r="1.35"/><circle cx="163.15" cy="103.92" r="1.35"/><circle cx="164.05" cy="104.2" r="1.35"/><circle cx="164.95" cy="100.68" r="1.35"/><circle cx="165.85" cy="155.56" r="1.35"/><circle cx="166.75" cy="105.17" r="1.35"/><circle cx="167.66" cy="114.97" r="1.35"/><circle cx="168.56" cy="106.18" r="1.35"/><circle cx="169.46" cy="133.42" r="1.35"/><circle cx="170.36" cy="143.72" r="1.35"/><circle cx="171.26" cy="166.12" r="1.35"/><circle cx="172.17" cy="108.47" r="1.35"/><circle cx="173.07" cy="152.15" r="1.35"/><circle cx="173.97" cy="117.41" r="1.35"/><circle cx="174.87" cy="130.32" r="1.35"/><circle cx="175.77" cy="194.03" r="1.35"/><circle cx="176.68" cy="129.41" r="1.35"/><circle cx="177.58" cy="148.41" r="1.35"/><circle cx="178.48" cy="134.9" r="1.35"/><circle cx="179.38" cy="61" r="1.35"/><circle cx="180.28" cy="65.75" r="1.35"/><circle cx="181.19" cy="168.9" r="1.35"/><circle cx="182.09" cy="156.24" r="1.35"/><circle cx="182.99" cy="161.34" r="1.35"/><circle cx="183.89" cy="98.23" r="1.35"/><circle cx="184.79" cy="142.84" r="1.35"/><circle cx="185.7" cy="88.35" r="1.35"/><circle cx="186.6" cy="149.5" r="1.35"/><circle cx="187.5" cy="125.62" r="1.35"/><circle cx="188.4" cy="158.7" r="1.35"/><circle cx="189.3" cy="146.86" r="1.35"/><circle cx="190.21" cy="117.89" r="1.35"/><circle cx="191.11" cy="130.93" r="1.35"/><circle cx="192.01" cy="152.11" r="1.35"/><circle cx="192.91" cy="148.67" r="1.35"/><circle cx="193.81" cy="198.02" r="1.35"/><circle cx="194.72" cy="111.03" r="1.35"/><circle cx="195.62" cy="128.61" r="1.35"/><circle cx="196.52" cy="92.39" r="1.35"/><circle cx="197.42" cy="118.78" r="1.35"/><circle cx="198.32" cy="102.93" r="1.35"/><circle cx="199.23" cy="162.56" r="1.35"/><circle cx="200.13" cy="133.28" r="1.35"/><circle cx="201.03" cy="113.81" r="1.35"/><circle cx="201.93" cy="167.2" r="1.35"/><circle cx="202.83" cy="113.91" r="1.35"/><circle cx="203.74" cy="121.01" r="1.35"/><circle cx="204.64" cy="135.48" r="1.35"/><circle cx="205.54" cy="141" r="1.35"/><circle cx="206.44" cy="131.5" r="1.35"/><circle cx="207.34" cy="136.68" r="1.35"/><circle cx="208.25" cy="110.31" r="1.35"/><circle cx="209.15" cy="115.62" r="1.35"/><circle cx="210.05" cy="139.62" r="1.35"/><circle cx="210.95" cy="120.3" r="1.35"/><circle cx="211.85" cy="178.36" r="1.35"/><circle cx="212.76" cy="174.48" r="1.35"/><circle cx="213.66" cy="92.95" r="1.35"/><circle cx="214.56" cy="95.64" r="1.35"/><circle cx="215.46" cy="101.56" r="1.35"/><circle cx="216.36" cy="86.62" r="1.35"/><circle cx="217.27" cy="109.42" r="1.35"/><circle cx="218.17" cy="109.96" r="1.35"/><circle cx="219.07" cy="117.37" r="1.35"/><circle cx="219.97" cy="123.16" r="1.35"/><circle cx="220.87" cy="96.46" r="1.35"/><circle cx="221.78" cy="152.88" r="1.35"/><circle cx="222.68" cy="113" r="1.35"/><circle cx="223.58" cy="110" r="1.35"/><circle cx="224.48" cy="61" r="1.35"/><circle cx="225.38" cy="112.47" r="1.35"/><circle cx="226.29" cy="121.52" r="1.35"/><circle cx="227.19" cy="150.7" r="1.35"/><circle cx="228.09" cy="127.94" r="1.35"/><circle cx="228.99" cy="140.39" r="1.35"/><circle cx="229.89" cy="134.99" r="1.35"/><circle cx="230.8" cy="178.45" r="1.35"/><circle cx="231.7" cy="100.05" r="1.35"/><circle cx="232.6" cy="128" r="1.35"/><circle cx="233.5" cy="131.77" r="1.35"/><circle cx="234.4" cy="119.24" r="1.35"/><circle cx="235.31" cy="131.66" r="1.35"/><circle cx="236.21" cy="123.87" r="1.35"/><circle cx="237.11" cy="135.79" r="1.35"/><circle cx="238.01" cy="106.43" r="1.35"/><circle cx="238.91" cy="134.35" r="1.35"/><circle cx="239.82" cy="140.2" r="1.35"/><circle cx="240.72" cy="142.72" r="1.35"/><circle cx="241.62" cy="72.9" r="1.35"/><circle cx="242.52" cy="135.72" r="1.35"/><circle cx="243.42" cy="190.2" r="1.35"/><circle cx="244.33" cy="137.25" r="1.35"/><circle cx="245.23" cy="110.51" r="1.35"/><circle cx="246.13" cy="138.3" r="1.35"/><circle cx="247.03" cy="134.21" r="1.35"/><circle cx="247.93" cy="131.48" r="1.35"/><circle cx="248.84" cy="129.85" r="1.35"/><circle cx="249.74" cy="133.42" r="1.35"/><circle cx="250.64" cy="185.32" r="1.35"/><circle cx="251.54" cy="131.48" r="1.35"/><circle cx="252.44" cy="117.87" r="1.35"/><circle cx="253.35" cy="177.26" r="1.35"/><circle cx="254.25" cy="104.99" r="1.35"/><circle cx="255.15" cy="192.75" r="1.35"/><circle cx="256.05" cy="183.29" r="1.35"/><circle cx="256.95" cy="178.39" r="1.35"/><circle cx="257.86" cy="92.08" r="1.35"/><circle cx="258.76" cy="106.48" r="1.35"/><circle cx="259.66" cy="133.45" r="1.35"/><circle cx="260.56" cy="190.2" r="1.35"/><circle cx="261.46" cy="134.96" r="1.35"/><circle cx="262.37" cy="162.56" r="1.35"/><circle cx="263.27" cy="162.83" r="1.35"/><circle cx="264.17" cy="133.18" r="1.35"/><circle cx="265.07" cy="131.89" r="1.35"/><circle cx="265.97" cy="203.29" r="1.35"/><circle cx="266.88" cy="124.09" r="1.35"/><circle cx="267.78" cy="156.18" r="1.35"/><circle cx="268.68" cy="176.1" r="1.35"/><circle cx="269.58" cy="109.61" r="1.35"/><circle cx="270.48" cy="190.2" r="1.35"/><circle cx="271.39" cy="124.75" r="1.35"/><circle cx="272.29" cy="108.35" r="1.35"/><circle cx="273.19" cy="128.43" r="1.35"/><circle cx="274.09" cy="174.6" r="1.35"/><circle cx="274.99" cy="128.97" r="1.35"/><circle cx="275.9" cy="135.76" r="1.35"/><circle cx="276.8" cy="141.17" r="1.35"/><circle cx="277.7" cy="94.89" r="1.35"/><circle cx="278.6" cy="120.14" r="1.35"/><circle cx="279.5" cy="125" r="1.35"/><circle cx="280.41" cy="142.23" r="1.35"/><circle cx="281.31" cy="99.23" r="1.35"/><circle cx="282.21" cy="136.85" r="1.35"/><circle cx="283.11" cy="129.28" r="1.35"/><circle cx="284.01" cy="151.65" r="1.35"/><circle cx="284.92" cy="134.33" r="1.35"/><circle cx="285.82" cy="175.94" r="1.35"/><circle cx="286.72" cy="188.67" r="1.35"/><circle cx="287.62" cy="147.53" r="1.35"/><circle cx="288.52" cy="143.03" r="1.35"/><circle cx="289.43" cy="104.44" r="1.35"/><circle cx="290.33" cy="100.95" r="1.35"/><circle cx="291.23" cy="138.35" r="1.35"/><circle cx="292.13" cy="167.25" r="1.35"/><circle cx="293.03" cy="138.94" r="1.35"/><circle cx="293.94" cy="138.94" r="1.35"/><circle cx="294.84" cy="120.08" r="1.35"/><circle cx="295.74" cy="105.54" r="1.35"/><circle cx="296.64" cy="129" r="1.35"/><circle cx="297.54" cy="166.57" r="1.35"/><circle cx="298.45" cy="139.71" r="1.35"/><circle cx="299.35" cy="146" r="1.35"/><circle cx="300.25" cy="114.21" r="1.35"/><circle cx="301.15" cy="138.52" r="1.35"/><circle cx="302.05" cy="135.12" r="1.35"/><circle cx="302.96" cy="173.2" r="1.35"/><circle cx="303.86" cy="125.43" r="1.35"/><circle cx="304.76" cy="68.99" r="1.35"/><circle cx="305.66" cy="139.8" r="1.35"/><circle cx="306.56" cy="185.19" r="1.35"/><circle cx="307.47" cy="107.33" r="1.35"/><circle cx="308.37" cy="119.14" r="1.35"/><circle cx="309.27" cy="179.32" r="1.35"/><circle cx="310.17" cy="106.56" r="1.35"/><circle cx="311.07" cy="111.83" r="1.35"/><circle cx="311.98" cy="151.61" r="1.35"/><circle cx="312.88" cy="151.95" r="1.35"/><circle cx="313.78" cy="132.91" r="1.35"/><circle cx="314.68" cy="135.46" r="1.35"/><circle cx="315.58" cy="209.07" r="1.35"/><circle cx="316.49" cy="123.14" r="1.35"/><circle cx="317.39" cy="85.39" r="1.35"/><circle cx="318.29" cy="169.29" r="1.35"/><circle cx="319.19" cy="103.33" r="1.35"/><circle cx="320.09" cy="139.88" r="1.35"/><circle cx="321" cy="116.25" r="1.35"/><circle cx="321.9" cy="145.15" r="1.35"/><circle cx="322.8" cy="167.84" r="1.35"/><circle cx="323.7" cy="101.29" r="1.35"/><circle cx="324.6" cy="133.5" r="1.35"/><circle cx="325.51" cy="43.83" r="1.35"/><circle cx="326.41" cy="113.7" r="1.35"/><circle cx="327.31" cy="118.97" r="1.35"/><circle cx="328.21" cy="112.34" r="1.35"/><circle cx="329.11" cy="179.06" r="1.35"/><circle cx="330.02" cy="177.03" r="1.35"/><circle cx="330.92" cy="145.41" r="1.35"/><circle cx="331.82" cy="161.73" r="1.35"/><circle cx="332.72" cy="118.46" r="1.35"/><circle cx="333.62" cy="140.65" r="1.35"/><circle cx="334.53" cy="133.5" r="1.35"/><circle cx="335.43" cy="160.7" r="1.35"/><circle cx="336.33" cy="128.24" r="1.35"/><circle cx="337.23" cy="126.03" r="1.35"/><circle cx="338.13" cy="168.36" r="1.35"/><circle cx="339.04" cy="121.69" r="1.35"/><circle cx="339.94" cy="80.81" r="1.35"/><circle cx="340.84" cy="133.5" r="1.35"/><circle cx="341.74" cy="97.89" r="1.35"/><circle cx="342.64" cy="60.41" r="1.35"/><circle cx="343.55" cy="132.23" r="1.35"/><circle cx="344.45" cy="142" r="1.35"/><circle cx="345.35" cy="118.46" r="1.35"/><circle cx="346.25" cy="130.02" r="1.35"/><circle cx="347.15" cy="134.36" r="1.35"/><circle cx="348.06" cy="106.39" r="1.35"/><circle cx="348.96" cy="119.57" r="1.35"/><circle cx="349.86" cy="119.82" r="1.35"/><circle cx="350.76" cy="136.14" r="1.35"/><circle cx="351.66" cy="89.47" r="1.35"/><circle cx="352.57" cy="99.93" r="1.35"/><circle cx="353.47" cy="144.13" r="1.35"/><circle cx="354.37" cy="121.18" r="1.35"/><circle cx="355.27" cy="153.4" r="1.35"/><circle cx="356.17" cy="158.58" r="1.35"/><circle cx="357.08" cy="97.89" r="1.35"/><circle cx="357.98" cy="126.45" r="1.35"/><circle cx="358.88" cy="160.7" r="1.35"/><circle cx="359.78" cy="137.5" r="1.35"/><circle cx="360.68" cy="112.34" r="1.35"/><circle cx="361.59" cy="143.03" r="1.35"/><circle cx="362.49" cy="146.76" r="1.35"/><circle cx="363.39" cy="134.1" r="1.35"/><circle cx="364.29" cy="90.75" r="1.35"/><circle cx="365.19" cy="146.17" r="1.35"/><circle cx="366.1" cy="151.27" r="1.35"/><circle cx="367" cy="189.01" r="1.35"/><circle cx="367.9" cy="117.69" r="1.35"/><circle cx="368.8" cy="100.1" r="1.35"/><circle cx="369.7" cy="144.13" r="1.35"/><circle cx="370.61" cy="97.12" r="1.35"/><circle cx="371.51" cy="124.27" r="1.35"/><circle cx="372.41" cy="122.8" r="1.35"/><circle cx="373.31" cy="146.7" r="1.35"/><circle cx="374.21" cy="131.44" r="1.35"/><circle cx="375.12" cy="116.31" r="1.35"/><circle cx="376.02" cy="132.91" r="1.35"/><circle cx="376.92" cy="96.65" r="1.35"/><circle cx="377.82" cy="128.1" r="1.35"/><circle cx="378.72" cy="149.05" r="1.35"/><circle cx="379.63" cy="130.05" r="1.35"/><circle cx="380.53" cy="133.48" r="1.35"/><circle cx="381.43" cy="153.39" r="1.35"/><circle cx="382.33" cy="99.7" r="1.35"/><circle cx="383.23" cy="181.54" r="1.35"/><circle cx="384.14" cy="131.46" r="1.35"/><circle cx="385.04" cy="135.17" r="1.35"/><circle cx="385.94" cy="125.85" r="1.35"/><circle cx="386.84" cy="150.63" r="1.35"/><circle cx="387.74" cy="124.23" r="1.35"/><circle cx="388.65" cy="171.08" r="1.35"/><circle cx="389.55" cy="130.99" r="1.35"/><circle cx="390.45" cy="130.63" r="1.35"/><circle cx="391.35" cy="61.85" r="1.35"/><circle cx="392.25" cy="131.22" r="1.35"/><circle cx="393.16" cy="109.87" r="1.35"/><circle cx="394.06" cy="97.9" r="1.35"/><circle cx="394.96" cy="134.46" r="1.35"/><circle cx="395.86" cy="135.78" r="1.35"/><circle cx="396.76" cy="116.58" r="1.35"/><circle cx="397.67" cy="128.49" r="1.35"/><circle cx="398.57" cy="136.57" r="1.35"/><circle cx="399.47" cy="149.2" r="1.35"/><circle cx="400.37" cy="114.7" r="1.35"/><circle cx="401.27" cy="139.52" r="1.35"/><circle cx="402.18" cy="113.39" r="1.35"/><circle cx="403.08" cy="139.29" r="1.35"/><circle cx="403.98" cy="174.59" r="1.35"/><circle cx="404.88" cy="174.78" r="1.35"/><circle cx="405.78" cy="115.92" r="1.35"/><circle cx="406.69" cy="120.69" r="1.35"/><circle cx="407.59" cy="163.68" r="1.35"/><circle cx="408.49" cy="190.2" r="1.35"/><circle cx="409.39" cy="138.31" r="1.35"/><circle cx="410.29" cy="142.52" r="1.35"/><circle cx="411.2" cy="159.62" r="1.35"/><circle cx="412.1" cy="52.5" r="1.35"/><circle cx="413" cy="138.1" r="1.35"/><circle cx="413.9" cy="134.6" r="1.35"/><circle cx="414.8" cy="150.68" r="1.35"/><circle cx="415.71" cy="99.44" r="1.35"/><circle cx="416.61" cy="131.42" r="1.35"/><circle cx="417.51" cy="113.07" r="1.35"/><circle cx="418.41" cy="113.51" r="1.35"/><circle cx="419.31" cy="110.92" r="1.35"/><circle cx="420.22" cy="146.88" r="1.35"/><circle cx="421.12" cy="162.24" r="1.35"/><circle cx="422.02" cy="208.47" r="1.35"/><circle cx="422.92" cy="107.2" r="1.35"/><circle cx="423.82" cy="94.1" r="1.35"/><circle cx="424.73" cy="94.03" r="1.35"/><circle cx="425.63" cy="132.3" r="1.35"/><circle cx="426.53" cy="189.14" r="1.35"/><circle cx="427.43" cy="119.33" r="1.35"/><circle cx="428.33" cy="147.15" r="1.35"/><circle cx="429.24" cy="106.23" r="1.35"/><circle cx="430.14" cy="116.59" r="1.35"/><circle cx="431.04" cy="117.54" r="1.35"/><circle cx="431.94" cy="168.72" r="1.35"/><circle cx="432.84" cy="134.64" r="1.35"/><circle cx="433.75" cy="99.29" r="1.35"/><circle cx="434.65" cy="115.62" r="1.35"/><circle cx="435.55" cy="132.66" r="1.35"/><circle cx="436.45" cy="125.19" r="1.35"/><circle cx="437.35" cy="121.72" r="1.35"/><circle cx="438.26" cy="127.62" r="1.35"/><circle cx="439.16" cy="171.87" r="1.35"/><circle cx="440.06" cy="129.38" r="1.35"/><circle cx="440.96" cy="170.63" r="1.35"/><circle cx="441.86" cy="130.93" r="1.35"/><circle cx="442.77" cy="132.51" r="1.35"/><circle cx="443.67" cy="141.54" r="1.35"/><circle cx="444.57" cy="90.96" r="1.35"/><circle cx="445.47" cy="181.14" r="1.35"/><circle cx="446.37" cy="121.83" r="1.35"/><circle cx="447.28" cy="136.39" r="1.35"/><circle cx="448.18" cy="113.31" r="1.35"/><circle cx="449.08" cy="193.69" r="1.35"/><circle cx="449.98" cy="189.88" r="1.35"/><circle cx="450.88" cy="100.37" r="1.35"/><circle cx="451.79" cy="107.08" r="1.35"/><circle cx="452.69" cy="128" r="1.35"/><circle cx="453.59" cy="128.65" r="1.35"/><circle cx="454.49" cy="145.96" r="1.35"/><circle cx="455.39" cy="137.25" r="1.35"/><circle cx="456.3" cy="127.74" r="1.35"/><circle cx="457.2" cy="109.09" r="1.35"/><circle cx="458.1" cy="191.9" r="1.35"/><circle cx="459" cy="118.87" r="1.35"/><circle cx="459.9" cy="172.51" r="1.35"/><circle cx="460.81" cy="105.15" r="1.35"/><circle cx="461.71" cy="127.29" r="1.35"/><circle cx="462.61" cy="90.66" r="1.35"/><circle cx="463.51" cy="162.96" r="1.35"/><circle cx="464.41" cy="133.44" r="1.35"/><circle cx="465.32" cy="149.89" r="1.35"/><circle cx="466.22" cy="107.74" r="1.35"/><circle cx="467.12" cy="91.33" r="1.35"/><circle cx="468.02" cy="118.08" r="1.35"/><circle cx="468.92" cy="140.37" r="1.35"/><circle cx="469.83" cy="100.67" r="1.35"/><circle cx="470.73" cy="176.68" r="1.35"/><circle cx="471.63" cy="73.75" r="1.35"/><circle cx="472.53" cy="136.94" r="1.35"/><circle cx="473.43" cy="184.51" r="1.35"/><circle cx="474.34" cy="203.29" r="1.35"/><circle cx="475.24" cy="124.59" r="1.35"/><circle cx="476.14" cy="134.53" r="1.35"/><circle cx="477.04" cy="134.99" r="1.35"/><circle cx="477.94" cy="129.18" r="1.35"/><circle cx="478.85" cy="126.74" r="1.35"/><circle cx="479.75" cy="114.52" r="1.35"/><circle cx="480.65" cy="165.64" r="1.35"/><circle cx="481.55" cy="147.17" r="1.35"/><circle cx="482.45" cy="102.27" r="1.35"/><circle cx="483.36" cy="124.08" r="1.35"/><circle cx="484.26" cy="119.47" r="1.35"/><circle cx="485.16" cy="131.64" r="1.35"/><circle cx="486.06" cy="123.73" r="1.35"/><circle cx="486.96" cy="126.06" r="1.35"/><circle cx="487.87" cy="107.15" r="1.35"/><circle cx="488.77" cy="108.96" r="1.35"/><circle cx="489.67" cy="122.92" r="1.35"/><circle cx="490.57" cy="175.7" r="1.35"/><circle cx="491.47" cy="164.76" r="1.35"/><circle cx="492.38" cy="90.1" r="1.35"/><circle cx="493.28" cy="153.36" r="1.35"/><circle cx="494.18" cy="145.02" r="1.35"/><circle cx="495.08" cy="155.55" r="1.35"/><circle cx="495.98" cy="97.95" r="1.35"/><circle cx="496.89" cy="127.29" r="1.35"/><circle cx="497.79" cy="145.7" r="1.35"/><circle cx="498.69" cy="127.5" r="1.35"/><circle cx="499.59" cy="143.72" r="1.35"/><circle cx="500.49" cy="108.17" r="1.35"/><circle cx="501.4" cy="111.32" r="1.35"/><circle cx="502.3" cy="105.83" r="1.35"/><circle cx="503.2" cy="109.81" r="1.35"/></g><polyline points="53.1,88.54 54,116.25 54.91,133.25 55.81,188.41 56.71,136.65 57.61,144.9 58.51,109.45 59.42,96.53 60.32,80.04 61.22,116.25 62.12,111.41 63.02,132.74 63.93,90.41 64.83,117.19 65.73,106.05 66.63,135.2 67.53,161.81 68.44,131.72 69.34,139.2 70.24,85.22 71.14,118.21 72.04,176.26 72.95,126.28 73.85,143.03 74.75,166.31 75.65,147.28 76.55,67.21 77.46,115.32 78.36,102.73 79.26,94.49 80.16,126.88 81.06,108.77 81.97,157.31 82.87,169.88 83.77,114.72 84.67,82.68 85.57,107.92 86.48,89.39 87.38,130.19 88.28,118.46 89.18,67.72 90.08,92.45 90.99,123.39 91.89,38.31 92.79,102.99 93.69,90.75 94.59,99.08 95.5,121.35 96.4,155.35 97.3,81.74 98.2,152.46 99.1,126.28 100.01,104.01 100.91,107.92 101.81,162.57 102.71,131.12 103.61,139.88 104.52,123.39 105.42,100.1 106.32,188.5 107.22,180 108.12,105.88 109.03,144.73 109.93,107.24 110.83,159.6 111.73,155.69 112.63,166.31 113.54,125.6 114.44,200.4 115.34,79.11 116.24,154.67 117.14,126.62 118.05,129.51 118.95,137.5 119.85,186.8 120.75,149.91 121.65,143.96 122.56,100.02 123.46,96.53 124.36,118.29 125.26,147.87 126.16,115.99 127.07,85.48 127.97,126.62 128.87,91.69 129.77,56.24 130.67,120.84 131.58,105.79 132.48,133.42 133.38,119.82 134.28,167.25 135.18,182.81 136.09,127.64 136.99,119.82 137.89,121.62 138.79,105.12 139.69,111.92 140.6,66.27 141.5,123.48 142.4,140.99 143.3,164.28 144.2,126.45 145.11,122.62 146.01,114.38 146.91,93.47 147.81,79.87 148.71,90.58 149.62,77.58 150.52,85.31 151.42,138.09 152.32,92.53 153.22,70.78 154.13,118.29 155.03,136.14 155.93,161.38 156.83,180.68 157.73,142.94 158.64,124.49 159.54,115.83 160.44,130.28 161.34,140.99 162.24,124.49 163.15,94.41 164.05,96.44 164.95,89.22 165.85,150.42 166.75,97.38 167.66,107.07 168.56,97.38 169.46,126.11 170.36,139.71 171.26,164.02 172.17,97.97 173.07,148.38 173.97,110.64 174.87,123.22 175.77,188.5 176.68,122.28 177.58,144.64 178.48,126.11 179.38,40.43 180.28,49.02 181.19,168.78 182.09,145.49 182.99,158.07 183.89,85.82 184.79,141.67 185.7,74.77 186.6,148.38 187.5,111.23 188.4,158.07 189.3,143.62 190.21,109.11 191.11,124.24 192.01,146.51 192.91,146 193.81,192.75 194.72,96.53 195.62,119.82 196.52,79.53 197.42,107.24 198.32,92.71 199.23,159.6 200.13,129.51 201.03,106.22 201.93,162.49 202.83,105.28 203.74,112 204.64,136.31 205.54,135.29 206.44,120.84 207.34,134.44 208.25,99.08 209.15,104.35 210.05,134.44 210.95,111.15 211.85,175.07 212.76,172.18 213.66,80.12 214.56,82 215.46,91.69 216.36,72.9 217.27,98.48 218.17,101.97 219.07,108.18 219.97,118.8 220.87,84.46 221.78,155.35 222.68,105.03 223.58,101.38 224.48,44.34 225.38,101.97 226.29,115.57 227.19,148.55 228.09,121.35 228.99,134.01 229.89,130.88 230.8,173.8 231.7,86.93 232.6,122.37 233.5,123.39 234.4,114.72 235.31,129.17 236.21,119.48 237.11,130.19 238.01,100.1 238.91,123.39 239.82,131.12 240.72,139.88 241.62,70.86 242.52,129.17 243.42,185.1 244.33,133.08 245.23,105.03 246.13,133.08 247.03,125.26 247.93,127.27 248.84,124.41 249.74,125.01 250.64,182.21 251.54,123.98 252.44,109.45 253.35,169.63 254.25,93.89 255.15,185.1 256.05,177.28 256.95,174.39 257.86,82.93 258.76,92.62 259.66,127.89 260.56,189.86 261.46,126.88 262.37,157.9 263.27,164.7 264.17,129.85 265.07,128.83 265.97,198.7 266.88,118.21 267.78,151.1 268.68,174.39 269.58,96.78 270.48,128.83 271.39,120.08 272.29,100.27 273.19,121.09 274.09,170.48 274.99,122.03 275.9,131.17 276.8,135.63 277.7,80.38 278.6,108.52 279.5,118.21 280.41,136.56 281.31,84.8 282.21,135.63 283.11,123.98 284.01,146.34 284.92,128.83 285.82,175.41 286.72,187.99 287.62,142.34 288.52,138.94 289.43,91.86 290.33,95 291.23,133.25 292.13,166.4 293.03,135.8 293.94,136.65 294.84,106.56 295.74,97.38 296.64,123.48 297.54,163.25 298.45,134.1 299.35,143.79 300.25,105.71 301.15,133.33 302.05,129.94 302.96,180.17 303.86,118.54 304.76,57.94 305.66,135.46 306.56,189.18 307.47,98.06 308.37,109.11 309.27,181.7 310.17,101.21 311.07,105.46 311.98,147.95 312.88,145.41 313.78,126.62 314.68,129.17 315.58,202.01 316.49,115.23 317.39,73.5 318.29,171.42 319.19,94.15 320.09,137.33 321,106.9 321.9,140.31 322.8,167.84 323.7,91.26 324.6,127.73 325.51,39.75 326.41,105.28 327.31,111.06 328.21,107.92 329.11,180.77 330.02,178.9 330.92,139.62 331.82,162.49 332.72,122.2 333.62,140.65 334.53,128.83 335.43,159.94 336.33,124.33 337.23,123.48 338.13,164.44 339.04,111.92 339.94,58.37 340.84,130.02 341.74,95.77 342.64,37.97 343.55,127.73 344.45,137.33 345.35,105.79 346.25,126.45 347.15,127.73 348.06,101.88 348.96,111.66 349.86,122.97 350.76,129 351.66,81.57 352.57,90.75 353.47,138.86 354.37,115.83 355.27,152.03 356.17,157.31 357.08,92.03 357.98,120.92 358.88,160.7 359.78,130.87 360.68,105.28 361.59,143.53 362.49,140.13 363.39,129.59 364.29,81.23 365.19,142 366.1,146.76 367,191.05 367.9,110.56 368.8,91.26 369.7,138.26 370.61,85.99 371.51,116.08 372.41,112.51 373.31,144.73 374.21,128.75 375.12,105.03 376.02,124.41 376.92,84.97 377.82,122.37 378.72,142.77 379.63,125.26 380.53,126.28 381.43,150.5 382.33,92.03 383.23,178.64 384.14,128.75 385.04,132.06 385.94,121.35 386.84,143.7 387.74,113.7 388.65,170.91 389.55,127.3 390.45,127.3 391.35,44.34 392.25,123.15 393.16,101.97 394.06,90.41 394.96,133.08 395.86,134.95 396.76,106.9 397.67,123.39 398.57,131.12 399.47,144.73 400.37,108.77 401.27,134.01 402.18,100.1 403.08,136.99 403.98,171.93 404.88,169.03 405.78,106.31 406.69,109.5 407.59,164.11 408.49,186.8 409.39,133.08 410.29,138.86 411.2,153.6 412.1,38.31 413,130.19 413.9,129.17 414.8,146.68 415.71,88.88 416.61,126.28 417.51,104.01 418.41,104.35 419.31,95.57 420.22,142.77 421.12,164.11 422.02,199.04 422.92,90.75 423.82,78.43 424.73,87.52 425.63,123.84 426.53,189.35 427.43,114.98 428.33,140.22 429.24,98.48 430.14,110.63 431.04,112 431.94,165.98 432.84,131.38 433.75,92.28 434.65,107.75 435.55,129.94 436.45,118.8 437.35,110.47 438.26,121.35 439.16,169.29 440.06,123.73 440.96,167.25 441.86,123.9 442.77,124.52 443.67,138.18 444.57,71.71 445.47,178.98 446.37,114.04 447.28,129.51 448.18,105.28 449.08,139.62 449.98,188.5 450.88,85.91 451.79,98.14 452.69,122.71 453.59,118.8 454.49,146 455.39,130.53 456.3,120.84 457.2,95.59 458.1,188.5 459,112 459.9,165.98 460.81,98.91 461.71,120.84 462.61,78.68 463.51,158.58 464.41,128.64 465.32,148.89 466.22,96.53 467.12,80.55 468.02,107.24 468.92,135.29 469.83,89.81 470.73,178.05 471.63,49.1 472.53,128.49 473.43,181.87 474.34,195.3 475.24,114.33 476.14,125.6 477.04,131.38 477.94,122.71 478.85,121.69 479.75,110.13 480.65,165.38 481.55,143.11 482.45,96.02 483.36,118.8 484.26,108.18 485.16,128.49 486.06,118.8 486.96,119.82 487.87,96.87 488.77,102.39 489.67,118.8 490.57,169.29 491.47,162.49 492.38,82 493.28,153.65 494.18,143.11 495.08,151.78 495.98,85.31 496.89,118.8 497.79,139.2 498.69,127.64 499.59,134.44 500.49,98.48 501.4,100.44 502.3,96.53 503.2,99.42" fill="none" stroke="#ec6a38" stroke-width="0.65" stroke-linejoin="round"/><g fill="#f5501a"><rect x="51.55" y="86.99" width="3.1" height="3.1" rx="0.93"/><rect x="52.45" y="114.7" width="3.1" height="3.1" rx="0.93"/><rect x="53.36" y="131.7" width="3.1" height="3.1" rx="0.93"/><rect x="54.26" y="186.86" width="3.1" height="3.1" rx="0.93"/><rect x="55.16" y="135.1" width="3.1" height="3.1" rx="0.93"/><rect x="56.06" y="143.34" width="3.1" height="3.1" rx="0.93"/><rect x="56.96" y="107.9" width="3.1" height="3.1" rx="0.93"/><rect x="57.87" y="94.98" width="3.1" height="3.1" rx="0.93"/><rect x="58.77" y="78.49" width="3.1" height="3.1" rx="0.93"/><rect x="59.67" y="114.7" width="3.1" height="3.1" rx="0.93"/><rect x="60.57" y="109.86" width="3.1" height="3.1" rx="0.93"/><rect x="61.47" y="131.19" width="3.1" height="3.1" rx="0.93"/><rect x="62.38" y="88.86" width="3.1" height="3.1" rx="0.93"/><rect x="63.28" y="115.64" width="3.1" height="3.1" rx="0.93"/><rect x="64.18" y="104.5" width="3.1" height="3.1" rx="0.93"/><rect x="65.08" y="133.65" width="3.1" height="3.1" rx="0.93"/><rect x="65.98" y="160.26" width="3.1" height="3.1" rx="0.93"/><rect x="66.89" y="130.17" width="3.1" height="3.1" rx="0.93"/><rect x="67.79" y="137.65" width="3.1" height="3.1" rx="0.93"/><rect x="68.69" y="83.67" width="3.1" height="3.1" rx="0.93"/><rect x="69.59" y="116.66" width="3.1" height="3.1" rx="0.93"/><rect x="70.49" y="174.71" width="3.1" height="3.1" rx="0.93"/><rect x="71.4" y="124.73" width="3.1" height="3.1" rx="0.93"/><rect x="72.3" y="141.47" width="3.1" height="3.1" rx="0.93"/><rect x="73.2" y="164.76" width="3.1" height="3.1" rx="0.93"/><rect x="74.1" y="145.72" width="3.1" height="3.1" rx="0.93"/><rect x="75" y="65.66" width="3.1" height="3.1" rx="0.93"/><rect x="75.91" y="113.77" width="3.1" height="3.1" rx="0.93"/><rect x="76.81" y="101.18" width="3.1" height="3.1" rx="0.93"/><rect x="77.71" y="92.94" width="3.1" height="3.1" rx="0.93"/><rect x="78.61" y="125.33" width="3.1" height="3.1" rx="0.93"/><rect x="79.51" y="107.22" width="3.1" height="3.1" rx="0.93"/><rect x="80.42" y="155.75" width="3.1" height="3.1" rx="0.93"/><rect x="81.32" y="168.33" width="3.1" height="3.1" rx="0.93"/><rect x="82.22" y="113.17" width="3.1" height="3.1" rx="0.93"/><rect x="83.12" y="81.13" width="3.1" height="3.1" rx="0.93"/><rect x="84.02" y="106.37" width="3.1" height="3.1" rx="0.93"/><rect x="84.93" y="87.84" width="3.1" height="3.1" rx="0.93"/><rect x="85.83" y="128.64" width="3.1" height="3.1" rx="0.93"/><rect x="86.73" y="116.91" width="3.1" height="3.1" rx="0.93"/><rect x="87.63" y="66.17" width="3.1" height="3.1" rx="0.93"/><rect x="88.53" y="90.9" width="3.1" height="3.1" rx="0.93"/><rect x="89.44" y="121.84" width="3.1" height="3.1" rx="0.93"/><rect x="90.34" y="36.76" width="3.1" height="3.1" rx="0.93"/><rect x="91.24" y="101.44" width="3.1" height="3.1" rx="0.93"/><rect x="92.14" y="89.2" width="3.1" height="3.1" rx="0.93"/><rect x="93.04" y="97.53" width="3.1" height="3.1" rx="0.93"/><rect x="93.95" y="119.8" width="3.1" height="3.1" rx="0.93"/><rect x="94.85" y="153.8" width="3.1" height="3.1" rx="0.93"/><rect x="95.75" y="80.19" width="3.1" height="3.1" rx="0.93"/><rect x="96.65" y="150.91" width="3.1" height="3.1" rx="0.93"/><rect x="97.55" y="124.73" width="3.1" height="3.1" rx="0.93"/><rect x="98.46" y="102.46" width="3.1" height="3.1" rx="0.93"/><rect x="99.36" y="106.37" width="3.1" height="3.1" rx="0.93"/><rect x="100.26" y="161.02" width="3.1" height="3.1" rx="0.93"/><rect x="101.16" y="129.57" width="3.1" height="3.1" rx="0.93"/><rect x="102.06" y="138.33" width="3.1" height="3.1" rx="0.93"/><rect x="102.97" y="121.84" width="3.1" height="3.1" rx="0.93"/><rect x="103.87" y="98.55" width="3.1" height="3.1" rx="0.93"/><rect x="104.77" y="186.95" width="3.1" height="3.1" rx="0.93"/><rect x="105.67" y="178.45" width="3.1" height="3.1" rx="0.93"/><rect x="106.57" y="104.33" width="3.1" height="3.1" rx="0.93"/><rect x="107.48" y="143.18" width="3.1" height="3.1" rx="0.93"/><rect x="108.38" y="105.69" width="3.1" height="3.1" rx="0.93"/><rect x="109.28" y="158.05" width="3.1" height="3.1" rx="0.93"/><rect x="110.18" y="154.14" width="3.1" height="3.1" rx="0.93"/><rect x="111.08" y="164.76" width="3.1" height="3.1" rx="0.93"/><rect x="111.99" y="124.05" width="3.1" height="3.1" rx="0.93"/><rect x="112.89" y="198.85" width="3.1" height="3.1" rx="0.93"/><rect x="113.79" y="77.56" width="3.1" height="3.1" rx="0.93"/><rect x="114.69" y="153.12" width="3.1" height="3.1" rx="0.93"/><rect x="115.59" y="125.07" width="3.1" height="3.1" rx="0.93"/><rect x="116.5" y="127.96" width="3.1" height="3.1" rx="0.93"/><rect x="117.4" y="135.95" width="3.1" height="3.1" rx="0.93"/><rect x="118.3" y="185.25" width="3.1" height="3.1" rx="0.93"/><rect x="119.2" y="148.36" width="3.1" height="3.1" rx="0.93"/><rect x="120.1" y="142.41" width="3.1" height="3.1" rx="0.93"/><rect x="121.01" y="98.47" width="3.1" height="3.1" rx="0.93"/><rect x="121.91" y="94.98" width="3.1" height="3.1" rx="0.93"/><rect x="122.81" y="116.74" width="3.1" height="3.1" rx="0.93"/><rect x="123.71" y="146.32" width="3.1" height="3.1" rx="0.93"/><rect x="124.61" y="114.44" width="3.1" height="3.1" rx="0.93"/><rect x="125.52" y="83.93" width="3.1" height="3.1" rx="0.93"/><rect x="126.42" y="125.07" width="3.1" height="3.1" rx="0.93"/><rect x="127.32" y="90.14" width="3.1" height="3.1" rx="0.93"/><rect x="128.22" y="54.69" width="3.1" height="3.1" rx="0.93"/><rect x="129.12" y="119.29" width="3.1" height="3.1" rx="0.93"/><rect x="130.03" y="104.24" width="3.1" height="3.1" rx="0.93"/><rect x="130.93" y="131.87" width="3.1" height="3.1" rx="0.93"/><rect x="131.83" y="118.27" width="3.1" height="3.1" rx="0.93"/><rect x="132.73" y="165.7" width="3.1" height="3.1" rx="0.93"/><rect x="133.63" y="181.25" width="3.1" height="3.1" rx="0.93"/><rect x="134.54" y="126.09" width="3.1" height="3.1" rx="0.93"/><rect x="135.44" y="118.27" width="3.1" height="3.1" rx="0.93"/><rect x="136.34" y="120.07" width="3.1" height="3.1" rx="0.93"/><rect x="137.24" y="103.57" width="3.1" height="3.1" rx="0.93"/><rect x="138.14" y="110.37" width="3.1" height="3.1" rx="0.93"/><rect x="139.05" y="64.72" width="3.1" height="3.1" rx="0.93"/><rect x="139.95" y="121.93" width="3.1" height="3.1" rx="0.93"/><rect x="140.85" y="139.44" width="3.1" height="3.1" rx="0.93"/><rect x="141.75" y="162.72" width="3.1" height="3.1" rx="0.93"/><rect x="142.65" y="124.9" width="3.1" height="3.1" rx="0.93"/><rect x="143.56" y="121.08" width="3.1" height="3.1" rx="0.93"/><rect x="144.46" y="112.83" width="3.1" height="3.1" rx="0.93"/><rect x="145.36" y="91.92" width="3.1" height="3.1" rx="0.93"/><rect x="146.26" y="78.32" width="3.1" height="3.1" rx="0.93"/><rect x="147.16" y="89.03" width="3.1" height="3.1" rx="0.93"/><rect x="148.07" y="76.03" width="3.1" height="3.1" rx="0.93"/><rect x="148.97" y="83.76" width="3.1" height="3.1" rx="0.93"/><rect x="149.87" y="136.54" width="3.1" height="3.1" rx="0.93"/><rect x="150.77" y="90.98" width="3.1" height="3.1" rx="0.93"/><rect x="151.67" y="69.23" width="3.1" height="3.1" rx="0.93"/><rect x="152.58" y="116.74" width="3.1" height="3.1" rx="0.93"/><rect x="153.48" y="134.59" width="3.1" height="3.1" rx="0.93"/><rect x="154.38" y="159.83" width="3.1" height="3.1" rx="0.93"/><rect x="155.28" y="179.13" width="3.1" height="3.1" rx="0.93"/><rect x="156.18" y="141.39" width="3.1" height="3.1" rx="0.93"/><rect x="157.09" y="122.94" width="3.1" height="3.1" rx="0.93"/><rect x="157.99" y="114.28" width="3.1" height="3.1" rx="0.93"/><rect x="158.89" y="128.72" width="3.1" height="3.1" rx="0.93"/><rect x="159.79" y="139.44" width="3.1" height="3.1" rx="0.93"/><rect x="160.69" y="122.94" width="3.1" height="3.1" rx="0.93"/><rect x="161.6" y="92.86" width="3.1" height="3.1" rx="0.93"/><rect x="162.5" y="94.89" width="3.1" height="3.1" rx="0.93"/><rect x="163.4" y="87.67" width="3.1" height="3.1" rx="0.93"/><rect x="164.3" y="148.87" width="3.1" height="3.1" rx="0.93"/><rect x="165.2" y="95.83" width="3.1" height="3.1" rx="0.93"/><rect x="166.11" y="105.52" width="3.1" height="3.1" rx="0.93"/><rect x="167.01" y="95.83" width="3.1" height="3.1" rx="0.93"/><rect x="167.91" y="124.56" width="3.1" height="3.1" rx="0.93"/><rect x="168.81" y="138.16" width="3.1" height="3.1" rx="0.93"/><rect x="169.71" y="162.47" width="3.1" height="3.1" rx="0.93"/><rect x="170.62" y="96.42" width="3.1" height="3.1" rx="0.93"/><rect x="171.52" y="146.83" width="3.1" height="3.1" rx="0.93"/><rect x="172.42" y="109.09" width="3.1" height="3.1" rx="0.93"/><rect x="173.32" y="121.67" width="3.1" height="3.1" rx="0.93"/><rect x="174.22" y="186.95" width="3.1" height="3.1" rx="0.93"/><rect x="175.13" y="120.73" width="3.1" height="3.1" rx="0.93"/><rect x="176.03" y="143.09" width="3.1" height="3.1" rx="0.93"/><rect x="176.93" y="124.56" width="3.1" height="3.1" rx="0.93"/><rect x="177.83" y="38.88" width="3.1" height="3.1" rx="0.93"/><rect x="178.73" y="47.47" width="3.1" height="3.1" rx="0.93"/><rect x="179.64" y="167.23" width="3.1" height="3.1" rx="0.93"/><rect x="180.54" y="143.94" width="3.1" height="3.1" rx="0.93"/><rect x="181.44" y="156.52" width="3.1" height="3.1" rx="0.93"/><rect x="182.34" y="84.27" width="3.1" height="3.1" rx="0.93"/><rect x="183.24" y="140.12" width="3.1" height="3.1" rx="0.93"/><rect x="184.15" y="73.22" width="3.1" height="3.1" rx="0.93"/><rect x="185.05" y="146.83" width="3.1" height="3.1" rx="0.93"/><rect x="185.95" y="109.68" width="3.1" height="3.1" rx="0.93"/><rect x="186.85" y="156.52" width="3.1" height="3.1" rx="0.93"/><rect x="187.75" y="142.07" width="3.1" height="3.1" rx="0.93"/><rect x="188.66" y="107.56" width="3.1" height="3.1" rx="0.93"/><rect x="189.56" y="122.69" width="3.1" height="3.1" rx="0.93"/><rect x="190.46" y="144.96" width="3.1" height="3.1" rx="0.93"/><rect x="191.36" y="144.45" width="3.1" height="3.1" rx="0.93"/><rect x="192.26" y="191.2" width="3.1" height="3.1" rx="0.93"/><rect x="193.17" y="94.98" width="3.1" height="3.1" rx="0.93"/><rect x="194.07" y="118.27" width="3.1" height="3.1" rx="0.93"/><rect x="194.97" y="77.98" width="3.1" height="3.1" rx="0.93"/><rect x="195.87" y="105.69" width="3.1" height="3.1" rx="0.93"/><rect x="196.77" y="91.16" width="3.1" height="3.1" rx="0.93"/><rect x="197.68" y="158.05" width="3.1" height="3.1" rx="0.93"/><rect x="198.58" y="127.96" width="3.1" height="3.1" rx="0.93"/><rect x="199.48" y="104.67" width="3.1" height="3.1" rx="0.93"/><rect x="200.38" y="160.94" width="3.1" height="3.1" rx="0.93"/><rect x="201.28" y="103.73" width="3.1" height="3.1" rx="0.93"/><rect x="202.19" y="110.45" width="3.1" height="3.1" rx="0.93"/><rect x="203.09" y="134.76" width="3.1" height="3.1" rx="0.93"/><rect x="203.99" y="133.74" width="3.1" height="3.1" rx="0.93"/><rect x="204.89" y="119.29" width="3.1" height="3.1" rx="0.93"/><rect x="205.79" y="132.89" width="3.1" height="3.1" rx="0.93"/><rect x="206.7" y="97.53" width="3.1" height="3.1" rx="0.93"/><rect x="207.6" y="102.8" width="3.1" height="3.1" rx="0.93"/><rect x="208.5" y="132.89" width="3.1" height="3.1" rx="0.93"/><rect x="209.4" y="109.6" width="3.1" height="3.1" rx="0.93"/><rect x="210.3" y="173.52" width="3.1" height="3.1" rx="0.93"/><rect x="211.21" y="170.63" width="3.1" height="3.1" rx="0.93"/><rect x="212.11" y="78.58" width="3.1" height="3.1" rx="0.93"/><rect x="213.01" y="80.45" width="3.1" height="3.1" rx="0.93"/><rect x="213.91" y="90.14" width="3.1" height="3.1" rx="0.93"/><rect x="214.81" y="71.35" width="3.1" height="3.1" rx="0.93"/><rect x="215.72" y="96.93" width="3.1" height="3.1" rx="0.93"/><rect x="216.62" y="100.42" width="3.1" height="3.1" rx="0.93"/><rect x="217.52" y="106.63" width="3.1" height="3.1" rx="0.93"/><rect x="218.42" y="117.25" width="3.1" height="3.1" rx="0.93"/><rect x="219.32" y="82.91" width="3.1" height="3.1" rx="0.93"/><rect x="220.23" y="153.8" width="3.1" height="3.1" rx="0.93"/><rect x="221.13" y="103.48" width="3.1" height="3.1" rx="0.93"/><rect x="222.03" y="99.83" width="3.1" height="3.1" rx="0.93"/><rect x="222.93" y="42.79" width="3.1" height="3.1" rx="0.93"/><rect x="223.83" y="100.42" width="3.1" height="3.1" rx="0.93"/><rect x="224.74" y="114.02" width="3.1" height="3.1" rx="0.93"/><rect x="225.64" y="147" width="3.1" height="3.1" rx="0.93"/><rect x="226.54" y="119.8" width="3.1" height="3.1" rx="0.93"/><rect x="227.44" y="132.46" width="3.1" height="3.1" rx="0.93"/><rect x="228.34" y="129.33" width="3.1" height="3.1" rx="0.93"/><rect x="229.25" y="172.25" width="3.1" height="3.1" rx="0.93"/><rect x="230.15" y="85.38" width="3.1" height="3.1" rx="0.93"/><rect x="231.05" y="120.82" width="3.1" height="3.1" rx="0.93"/><rect x="231.95" y="121.84" width="3.1" height="3.1" rx="0.93"/><rect x="232.85" y="113.17" width="3.1" height="3.1" rx="0.93"/><rect x="233.76" y="127.62" width="3.1" height="3.1" rx="0.93"/><rect x="234.66" y="117.93" width="3.1" height="3.1" rx="0.93"/><rect x="235.56" y="128.64" width="3.1" height="3.1" rx="0.93"/><rect x="236.46" y="98.55" width="3.1" height="3.1" rx="0.93"/><rect x="237.36" y="121.84" width="3.1" height="3.1" rx="0.93"/><rect x="238.27" y="129.57" width="3.1" height="3.1" rx="0.93"/><rect x="239.17" y="138.33" width="3.1" height="3.1" rx="0.93"/><rect x="240.07" y="69.31" width="3.1" height="3.1" rx="0.93"/><rect x="240.97" y="127.62" width="3.1" height="3.1" rx="0.93"/><rect x="241.87" y="183.55" width="3.1" height="3.1" rx="0.93"/><rect x="242.78" y="131.53" width="3.1" height="3.1" rx="0.93"/><rect x="243.68" y="103.48" width="3.1" height="3.1" rx="0.93"/><rect x="244.58" y="131.53" width="3.1" height="3.1" rx="0.93"/><rect x="245.48" y="123.71" width="3.1" height="3.1" rx="0.93"/><rect x="246.38" y="125.72" width="3.1" height="3.1" rx="0.93"/><rect x="247.29" y="122.86" width="3.1" height="3.1" rx="0.93"/><rect x="248.19" y="123.46" width="3.1" height="3.1" rx="0.93"/><rect x="249.09" y="180.66" width="3.1" height="3.1" rx="0.93"/><rect x="249.99" y="122.44" width="3.1" height="3.1" rx="0.93"/><rect x="250.89" y="107.9" width="3.1" height="3.1" rx="0.93"/><rect x="251.8" y="168.08" width="3.1" height="3.1" rx="0.93"/><rect x="252.7" y="92.34" width="3.1" height="3.1" rx="0.93"/><rect x="253.6" y="183.55" width="3.1" height="3.1" rx="0.93"/><rect x="254.5" y="175.73" width="3.1" height="3.1" rx="0.93"/><rect x="255.4" y="172.84" width="3.1" height="3.1" rx="0.93"/><rect x="256.31" y="81.38" width="3.1" height="3.1" rx="0.93"/><rect x="257.21" y="91.07" width="3.1" height="3.1" rx="0.93"/><rect x="258.11" y="126.34" width="3.1" height="3.1" rx="0.93"/><rect x="259.01" y="188.31" width="3.1" height="3.1" rx="0.93"/><rect x="259.91" y="125.33" width="3.1" height="3.1" rx="0.93"/><rect x="260.82" y="156.35" width="3.1" height="3.1" rx="0.93"/><rect x="261.72" y="163.15" width="3.1" height="3.1" rx="0.93"/><rect x="262.62" y="128.3" width="3.1" height="3.1" rx="0.93"/><rect x="263.52" y="127.28" width="3.1" height="3.1" rx="0.93"/><rect x="264.42" y="197.15" width="3.1" height="3.1" rx="0.93"/><rect x="265.33" y="116.66" width="3.1" height="3.1" rx="0.93"/><rect x="266.23" y="149.55" width="3.1" height="3.1" rx="0.93"/><rect x="267.13" y="172.84" width="3.1" height="3.1" rx="0.93"/><rect x="268.03" y="95.23" width="3.1" height="3.1" rx="0.93"/><rect x="268.93" y="127.28" width="3.1" height="3.1" rx="0.93"/><rect x="269.84" y="118.53" width="3.1" height="3.1" rx="0.93"/><rect x="270.74" y="98.72" width="3.1" height="3.1" rx="0.93"/><rect x="271.64" y="119.55" width="3.1" height="3.1" rx="0.93"/><rect x="272.54" y="168.93" width="3.1" height="3.1" rx="0.93"/><rect x="273.44" y="120.48" width="3.1" height="3.1" rx="0.93"/><rect x="274.35" y="129.62" width="3.1" height="3.1" rx="0.93"/><rect x="275.25" y="134.08" width="3.1" height="3.1" rx="0.93"/><rect x="276.15" y="78.83" width="3.1" height="3.1" rx="0.93"/><rect x="277.05" y="106.97" width="3.1" height="3.1" rx="0.93"/><rect x="277.95" y="116.66" width="3.1" height="3.1" rx="0.93"/><rect x="278.86" y="135.01" width="3.1" height="3.1" rx="0.93"/><rect x="279.76" y="83.25" width="3.1" height="3.1" rx="0.93"/><rect x="280.66" y="134.08" width="3.1" height="3.1" rx="0.93"/><rect x="281.56" y="122.44" width="3.1" height="3.1" rx="0.93"/><rect x="282.46" y="144.79" width="3.1" height="3.1" rx="0.93"/><rect x="283.37" y="127.28" width="3.1" height="3.1" rx="0.93"/><rect x="284.27" y="173.86" width="3.1" height="3.1" rx="0.93"/><rect x="285.17" y="186.44" width="3.1" height="3.1" rx="0.93"/><rect x="286.07" y="140.79" width="3.1" height="3.1" rx="0.93"/><rect x="286.97" y="137.39" width="3.1" height="3.1" rx="0.93"/><rect x="287.88" y="90.31" width="3.1" height="3.1" rx="0.93"/><rect x="288.78" y="93.45" width="3.1" height="3.1" rx="0.93"/><rect x="289.68" y="131.7" width="3.1" height="3.1" rx="0.93"/><rect x="290.58" y="164.85" width="3.1" height="3.1" rx="0.93"/><rect x="291.48" y="134.25" width="3.1" height="3.1" rx="0.93"/><rect x="292.39" y="135.1" width="3.1" height="3.1" rx="0.93"/><rect x="293.29" y="105.01" width="3.1" height="3.1" rx="0.93"/><rect x="294.19" y="95.83" width="3.1" height="3.1" rx="0.93"/><rect x="295.09" y="121.93" width="3.1" height="3.1" rx="0.93"/><rect x="295.99" y="161.7" width="3.1" height="3.1" rx="0.93"/><rect x="296.9" y="132.55" width="3.1" height="3.1" rx="0.93"/><rect x="297.8" y="142.24" width="3.1" height="3.1" rx="0.93"/><rect x="298.7" y="104.16" width="3.1" height="3.1" rx="0.93"/><rect x="299.6" y="131.78" width="3.1" height="3.1" rx="0.93"/><rect x="300.5" y="128.38" width="3.1" height="3.1" rx="0.93"/><rect x="301.41" y="178.62" width="3.1" height="3.1" rx="0.93"/><rect x="302.31" y="116.99" width="3.1" height="3.1" rx="0.93"/><rect x="303.21" y="56.39" width="3.1" height="3.1" rx="0.93"/><rect x="304.11" y="133.91" width="3.1" height="3.1" rx="0.93"/><rect x="305.01" y="187.63" width="3.1" height="3.1" rx="0.93"/><rect x="305.92" y="96.51" width="3.1" height="3.1" rx="0.93"/><rect x="306.82" y="107.56" width="3.1" height="3.1" rx="0.93"/><rect x="307.72" y="180.15" width="3.1" height="3.1" rx="0.93"/><rect x="308.62" y="99.66" width="3.1" height="3.1" rx="0.93"/><rect x="309.52" y="103.91" width="3.1" height="3.1" rx="0.93"/><rect x="310.43" y="146.4" width="3.1" height="3.1" rx="0.93"/><rect x="311.33" y="143.85" width="3.1" height="3.1" rx="0.93"/><rect x="312.23" y="125.07" width="3.1" height="3.1" rx="0.93"/><rect x="313.13" y="127.62" width="3.1" height="3.1" rx="0.93"/><rect x="314.03" y="200.46" width="3.1" height="3.1" rx="0.93"/><rect x="314.94" y="113.68" width="3.1" height="3.1" rx="0.93"/><rect x="315.84" y="71.95" width="3.1" height="3.1" rx="0.93"/><rect x="316.74" y="169.87" width="3.1" height="3.1" rx="0.93"/><rect x="317.64" y="92.6" width="3.1" height="3.1" rx="0.93"/><rect x="318.54" y="135.78" width="3.1" height="3.1" rx="0.93"/><rect x="319.45" y="105.35" width="3.1" height="3.1" rx="0.93"/><rect x="320.35" y="138.75" width="3.1" height="3.1" rx="0.93"/><rect x="321.25" y="166.29" width="3.1" height="3.1" rx="0.93"/><rect x="322.15" y="89.71" width="3.1" height="3.1" rx="0.93"/><rect x="323.05" y="126.18" width="3.1" height="3.1" rx="0.93"/><rect x="323.96" y="38.2" width="3.1" height="3.1" rx="0.93"/><rect x="324.86" y="103.73" width="3.1" height="3.1" rx="0.93"/><rect x="325.76" y="109.52" width="3.1" height="3.1" rx="0.93"/><rect x="326.66" y="106.37" width="3.1" height="3.1" rx="0.93"/><rect x="327.56" y="179.22" width="3.1" height="3.1" rx="0.93"/><rect x="328.47" y="177.34" width="3.1" height="3.1" rx="0.93"/><rect x="329.37" y="138.07" width="3.1" height="3.1" rx="0.93"/><rect x="330.27" y="160.94" width="3.1" height="3.1" rx="0.93"/><rect x="331.17" y="120.65" width="3.1" height="3.1" rx="0.93"/><rect x="332.07" y="139.09" width="3.1" height="3.1" rx="0.93"/><rect x="332.98" y="127.28" width="3.1" height="3.1" rx="0.93"/><rect x="333.88" y="158.39" width="3.1" height="3.1" rx="0.93"/><rect x="334.78" y="122.78" width="3.1" height="3.1" rx="0.93"/><rect x="335.68" y="121.93" width="3.1" height="3.1" rx="0.93"/><rect x="336.58" y="162.89" width="3.1" height="3.1" rx="0.93"/><rect x="337.49" y="110.37" width="3.1" height="3.1" rx="0.93"/><rect x="338.39" y="56.82" width="3.1" height="3.1" rx="0.93"/><rect x="339.29" y="128.47" width="3.1" height="3.1" rx="0.93"/><rect x="340.19" y="94.22" width="3.1" height="3.1" rx="0.93"/><rect x="341.09" y="36.42" width="3.1" height="3.1" rx="0.93"/><rect x="342" y="126.18" width="3.1" height="3.1" rx="0.93"/><rect x="342.9" y="135.78" width="3.1" height="3.1" rx="0.93"/><rect x="343.8" y="104.24" width="3.1" height="3.1" rx="0.93"/><rect x="344.7" y="124.9" width="3.1" height="3.1" rx="0.93"/><rect x="345.6" y="126.18" width="3.1" height="3.1" rx="0.93"/><rect x="346.51" y="100.33" width="3.1" height="3.1" rx="0.93"/><rect x="347.41" y="110.11" width="3.1" height="3.1" rx="0.93"/><rect x="348.31" y="121.42" width="3.1" height="3.1" rx="0.93"/><rect x="349.21" y="127.45" width="3.1" height="3.1" rx="0.93"/><rect x="350.11" y="80.02" width="3.1" height="3.1" rx="0.93"/><rect x="351.02" y="89.2" width="3.1" height="3.1" rx="0.93"/><rect x="351.92" y="137.31" width="3.1" height="3.1" rx="0.93"/><rect x="352.82" y="114.28" width="3.1" height="3.1" rx="0.93"/><rect x="353.72" y="150.48" width="3.1" height="3.1" rx="0.93"/><rect x="354.62" y="155.75" width="3.1" height="3.1" rx="0.93"/><rect x="355.53" y="90.48" width="3.1" height="3.1" rx="0.93"/><rect x="356.43" y="119.38" width="3.1" height="3.1" rx="0.93"/><rect x="357.33" y="159.15" width="3.1" height="3.1" rx="0.93"/><rect x="358.23" y="129.32" width="3.1" height="3.1" rx="0.93"/><rect x="359.13" y="103.73" width="3.1" height="3.1" rx="0.93"/><rect x="360.04" y="141.98" width="3.1" height="3.1" rx="0.93"/><rect x="360.94" y="138.58" width="3.1" height="3.1" rx="0.93"/><rect x="361.84" y="128.04" width="3.1" height="3.1" rx="0.93"/><rect x="362.74" y="79.68" width="3.1" height="3.1" rx="0.93"/><rect x="363.64" y="140.45" width="3.1" height="3.1" rx="0.93"/><rect x="364.55" y="145.21" width="3.1" height="3.1" rx="0.93"/><rect x="365.45" y="189.5" width="3.1" height="3.1" rx="0.93"/><rect x="366.35" y="109.01" width="3.1" height="3.1" rx="0.93"/><rect x="367.25" y="89.71" width="3.1" height="3.1" rx="0.93"/><rect x="368.15" y="136.71" width="3.1" height="3.1" rx="0.93"/><rect x="369.06" y="84.44" width="3.1" height="3.1" rx="0.93"/><rect x="369.96" y="114.53" width="3.1" height="3.1" rx="0.93"/><rect x="370.86" y="110.96" width="3.1" height="3.1" rx="0.93"/><rect x="371.76" y="143.18" width="3.1" height="3.1" rx="0.93"/><rect x="372.66" y="127.2" width="3.1" height="3.1" rx="0.93"/><rect x="373.57" y="103.48" width="3.1" height="3.1" rx="0.93"/><rect x="374.47" y="122.86" width="3.1" height="3.1" rx="0.93"/><rect x="375.37" y="83.42" width="3.1" height="3.1" rx="0.93"/><rect x="376.27" y="120.82" width="3.1" height="3.1" rx="0.93"/><rect x="377.17" y="141.22" width="3.1" height="3.1" rx="0.93"/><rect x="378.08" y="123.71" width="3.1" height="3.1" rx="0.93"/><rect x="378.98" y="124.73" width="3.1" height="3.1" rx="0.93"/><rect x="379.88" y="148.95" width="3.1" height="3.1" rx="0.93"/><rect x="380.78" y="90.48" width="3.1" height="3.1" rx="0.93"/><rect x="381.68" y="177.09" width="3.1" height="3.1" rx="0.93"/><rect x="382.59" y="127.2" width="3.1" height="3.1" rx="0.93"/><rect x="383.49" y="130.51" width="3.1" height="3.1" rx="0.93"/><rect x="384.39" y="119.8" width="3.1" height="3.1" rx="0.93"/><rect x="385.29" y="142.15" width="3.1" height="3.1" rx="0.93"/><rect x="386.19" y="112.15" width="3.1" height="3.1" rx="0.93"/><rect x="387.1" y="169.35" width="3.1" height="3.1" rx="0.93"/><rect x="388" y="125.75" width="3.1" height="3.1" rx="0.93"/><rect x="388.9" y="125.75" width="3.1" height="3.1" rx="0.93"/><rect x="389.8" y="42.79" width="3.1" height="3.1" rx="0.93"/><rect x="390.7" y="121.6" width="3.1" height="3.1" rx="0.93"/><rect x="391.61" y="100.42" width="3.1" height="3.1" rx="0.93"/><rect x="392.51" y="88.86" width="3.1" height="3.1" rx="0.93"/><rect x="393.41" y="131.53" width="3.1" height="3.1" rx="0.93"/><rect x="394.31" y="133.4" width="3.1" height="3.1" rx="0.93"/><rect x="395.21" y="105.35" width="3.1" height="3.1" rx="0.93"/><rect x="396.12" y="121.84" width="3.1" height="3.1" rx="0.93"/><rect x="397.02" y="129.57" width="3.1" height="3.1" rx="0.93"/><rect x="397.92" y="143.18" width="3.1" height="3.1" rx="0.93"/><rect x="398.82" y="107.22" width="3.1" height="3.1" rx="0.93"/><rect x="399.72" y="132.46" width="3.1" height="3.1" rx="0.93"/><rect x="400.63" y="98.55" width="3.1" height="3.1" rx="0.93"/><rect x="401.53" y="135.44" width="3.1" height="3.1" rx="0.93"/><rect x="402.43" y="170.38" width="3.1" height="3.1" rx="0.93"/><rect x="403.33" y="167.48" width="3.1" height="3.1" rx="0.93"/><rect x="404.23" y="104.76" width="3.1" height="3.1" rx="0.93"/><rect x="405.14" y="107.95" width="3.1" height="3.1" rx="0.93"/><rect x="406.04" y="162.56" width="3.1" height="3.1" rx="0.93"/><rect x="406.94" y="185.25" width="3.1" height="3.1" rx="0.93"/><rect x="407.84" y="131.53" width="3.1" height="3.1" rx="0.93"/><rect x="408.74" y="137.31" width="3.1" height="3.1" rx="0.93"/><rect x="409.65" y="152.05" width="3.1" height="3.1" rx="0.93"/><rect x="410.55" y="36.76" width="3.1" height="3.1" rx="0.93"/><rect x="411.45" y="128.64" width="3.1" height="3.1" rx="0.93"/><rect x="412.35" y="127.62" width="3.1" height="3.1" rx="0.93"/><rect x="413.25" y="145.13" width="3.1" height="3.1" rx="0.93"/><rect x="414.16" y="87.33" width="3.1" height="3.1" rx="0.93"/><rect x="415.06" y="124.73" width="3.1" height="3.1" rx="0.93"/><rect x="415.96" y="102.46" width="3.1" height="3.1" rx="0.93"/><rect x="416.86" y="102.8" width="3.1" height="3.1" rx="0.93"/><rect x="417.76" y="94.02" width="3.1" height="3.1" rx="0.93"/><rect x="418.67" y="141.22" width="3.1" height="3.1" rx="0.93"/><rect x="419.57" y="162.56" width="3.1" height="3.1" rx="0.93"/><rect x="420.47" y="197.49" width="3.1" height="3.1" rx="0.93"/><rect x="421.37" y="89.2" width="3.1" height="3.1" rx="0.93"/><rect x="422.27" y="76.88" width="3.1" height="3.1" rx="0.93"/><rect x="423.18" y="85.97" width="3.1" height="3.1" rx="0.93"/><rect x="424.08" y="122.29" width="3.1" height="3.1" rx="0.93"/><rect x="424.98" y="187.8" width="3.1" height="3.1" rx="0.93"/><rect x="425.88" y="113.43" width="3.1" height="3.1" rx="0.93"/><rect x="426.78" y="138.67" width="3.1" height="3.1" rx="0.93"/><rect x="427.69" y="96.93" width="3.1" height="3.1" rx="0.93"/><rect x="428.59" y="109.08" width="3.1" height="3.1" rx="0.93"/><rect x="429.49" y="110.45" width="3.1" height="3.1" rx="0.93"/><rect x="430.39" y="164.43" width="3.1" height="3.1" rx="0.93"/><rect x="431.29" y="129.83" width="3.1" height="3.1" rx="0.93"/><rect x="432.2" y="90.73" width="3.1" height="3.1" rx="0.93"/><rect x="433.1" y="106.2" width="3.1" height="3.1" rx="0.93"/><rect x="434" y="128.38" width="3.1" height="3.1" rx="0.93"/><rect x="434.9" y="117.25" width="3.1" height="3.1" rx="0.93"/><rect x="435.8" y="108.92" width="3.1" height="3.1" rx="0.93"/><rect x="436.71" y="119.8" width="3.1" height="3.1" rx="0.93"/><rect x="437.61" y="167.74" width="3.1" height="3.1" rx="0.93"/><rect x="438.51" y="122.18" width="3.1" height="3.1" rx="0.93"/><rect x="439.41" y="165.7" width="3.1" height="3.1" rx="0.93"/><rect x="440.31" y="122.35" width="3.1" height="3.1" rx="0.93"/><rect x="441.22" y="122.97" width="3.1" height="3.1" rx="0.93"/><rect x="442.12" y="136.63" width="3.1" height="3.1" rx="0.93"/><rect x="443.02" y="70.16" width="3.1" height="3.1" rx="0.93"/><rect x="443.92" y="177.43" width="3.1" height="3.1" rx="0.93"/><rect x="444.82" y="112.49" width="3.1" height="3.1" rx="0.93"/><rect x="445.73" y="127.96" width="3.1" height="3.1" rx="0.93"/><rect x="446.63" y="103.73" width="3.1" height="3.1" rx="0.93"/><rect x="447.53" y="138.07" width="3.1" height="3.1" rx="0.93"/><rect x="448.43" y="186.95" width="3.1" height="3.1" rx="0.93"/><rect x="449.33" y="84.36" width="3.1" height="3.1" rx="0.93"/><rect x="450.24" y="96.59" width="3.1" height="3.1" rx="0.93"/><rect x="451.14" y="121.16" width="3.1" height="3.1" rx="0.93"/><rect x="452.04" y="117.25" width="3.1" height="3.1" rx="0.93"/><rect x="452.94" y="144.45" width="3.1" height="3.1" rx="0.93"/><rect x="453.84" y="128.98" width="3.1" height="3.1" rx="0.93"/><rect x="454.75" y="119.29" width="3.1" height="3.1" rx="0.93"/><rect x="455.65" y="94.05" width="3.1" height="3.1" rx="0.93"/><rect x="456.55" y="186.95" width="3.1" height="3.1" rx="0.93"/><rect x="457.45" y="110.45" width="3.1" height="3.1" rx="0.93"/><rect x="458.35" y="164.43" width="3.1" height="3.1" rx="0.93"/><rect x="459.26" y="97.36" width="3.1" height="3.1" rx="0.93"/><rect x="460.16" y="119.29" width="3.1" height="3.1" rx="0.93"/><rect x="461.06" y="77.13" width="3.1" height="3.1" rx="0.93"/><rect x="461.96" y="157.03" width="3.1" height="3.1" rx="0.93"/><rect x="462.86" y="127.09" width="3.1" height="3.1" rx="0.93"/><rect x="463.77" y="147.34" width="3.1" height="3.1" rx="0.93"/><rect x="464.67" y="94.98" width="3.1" height="3.1" rx="0.93"/><rect x="465.57" y="79" width="3.1" height="3.1" rx="0.93"/><rect x="466.47" y="105.69" width="3.1" height="3.1" rx="0.93"/><rect x="467.37" y="133.74" width="3.1" height="3.1" rx="0.93"/><rect x="468.28" y="88.27" width="3.1" height="3.1" rx="0.93"/><rect x="469.18" y="176.5" width="3.1" height="3.1" rx="0.93"/><rect x="470.08" y="47.55" width="3.1" height="3.1" rx="0.93"/><rect x="470.98" y="126.94" width="3.1" height="3.1" rx="0.93"/><rect x="471.88" y="180.32" width="3.1" height="3.1" rx="0.93"/><rect x="472.79" y="193.75" width="3.1" height="3.1" rx="0.93"/><rect x="473.69" y="112.78" width="3.1" height="3.1" rx="0.93"/><rect x="474.59" y="124.05" width="3.1" height="3.1" rx="0.93"/><rect x="475.49" y="129.83" width="3.1" height="3.1" rx="0.93"/><rect x="476.39" y="121.16" width="3.1" height="3.1" rx="0.93"/><rect x="477.3" y="120.14" width="3.1" height="3.1" rx="0.93"/><rect x="478.2" y="108.58" width="3.1" height="3.1" rx="0.93"/><rect x="479.1" y="163.83" width="3.1" height="3.1" rx="0.93"/><rect x="480" y="141.56" width="3.1" height="3.1" rx="0.93"/><rect x="480.9" y="94.47" width="3.1" height="3.1" rx="0.93"/><rect x="481.81" y="117.25" width="3.1" height="3.1" rx="0.93"/><rect x="482.71" y="106.63" width="3.1" height="3.1" rx="0.93"/><rect x="483.61" y="126.94" width="3.1" height="3.1" rx="0.93"/><rect x="484.51" y="117.25" width="3.1" height="3.1" rx="0.93"/><rect x="485.41" y="118.27" width="3.1" height="3.1" rx="0.93"/><rect x="486.32" y="95.32" width="3.1" height="3.1" rx="0.93"/><rect x="487.22" y="100.84" width="3.1" height="3.1" rx="0.93"/><rect x="488.12" y="117.25" width="3.1" height="3.1" rx="0.93"/><rect x="489.02" y="167.74" width="3.1" height="3.1" rx="0.93"/><rect x="489.92" y="160.94" width="3.1" height="3.1" rx="0.93"/><rect x="490.83" y="80.45" width="3.1" height="3.1" rx="0.93"/><rect x="491.73" y="152.1" width="3.1" height="3.1" rx="0.93"/><rect x="492.63" y="141.56" width="3.1" height="3.1" rx="0.93"/><rect x="493.53" y="150.23" width="3.1" height="3.1" rx="0.93"/><rect x="494.43" y="83.76" width="3.1" height="3.1" rx="0.93"/><rect x="495.34" y="117.25" width="3.1" height="3.1" rx="0.93"/><rect x="496.24" y="137.65" width="3.1" height="3.1" rx="0.93"/><rect x="497.14" y="126.09" width="3.1" height="3.1" rx="0.93"/><rect x="498.04" y="132.89" width="3.1" height="3.1" rx="0.93"/><rect x="498.94" y="96.93" width="3.1" height="3.1" rx="0.93"/><rect x="499.85" y="98.89" width="3.1" height="3.1" rx="0.93"/><rect x="500.75" y="94.98" width="3.1" height="3.1" rx="0.93"/><rect x="501.65" y="97.87" width="3.1" height="3.1" rx="0.93"/></g></g><rect x="34" y="6.5" width="487.5" height="345.8" fill="none" stroke="#4a4a4a" stroke-width="1.3"/><path d="M34 239.5h3 M34 197h3 M34 154.5h3 M34 112h3 M34 69.5h3 M34 27h3 M34 218.25h1.8 M34 175.75h1.8 M34 133.25h1.8 M34 90.75h1.8 M34 48.25h1.8 M52.2 352.3v-3 M97.3 352.3v-3 M142.4 352.3v-3 M187.5 352.3v-3 M232.6 352.3v-3 M277.7 352.3v-3 M322.8 352.3v-3 M367.9 352.3v-3 M413 352.3v-3 M458.1 352.3v-3 M503.2 352.3v-3 M74.75 352.3v-1.8 M119.85 352.3v-1.8 M164.95 352.3v-1.8 M210.05 352.3v-1.8 M255.15 352.3v-1.8 M300.25 352.3v-1.8 M345.35 352.3v-1.8 M390.45 352.3v-1.8 M435.55 352.3v-1.8 M480.65 352.3v-1.8 M521.5 334.2h-3 M521.5 319.5h-3 M521.5 304.8h-3 M521.5 290.1h-3 M521.5 275.4h-3 M521.5 260.7h-3 M521.5 246h-3 M521.5 341.55h-1.8 M521.5 326.85h-1.8 M521.5 312.15h-1.8 M521.5 297.45h-1.8 M521.5 282.75h-1.8 M521.5 268.05h-1.8 M521.5 253.35h-1.8" stroke="#4a4a4a" stroke-width="1" fill="none"/><g font-family='"Liberation Serif", "Times New Roman", serif' font-size="7.25" fill="#161616" stroke="#161616" stroke-width="0.08"><text x="30.2" y="242.25" text-anchor="end">0</text><text x="30.2" y="199.75" text-anchor="end">50</text><text x="30.2" y="157.25" text-anchor="end">100</text><text x="30.2" y="114.75" text-anchor="end">150</text><text x="30.2" y="72.25" text-anchor="end">200</text><text x="30.2" y="29.75" text-anchor="end">250</text><text x="52.2" y="361.8" text-anchor="middle">0</text><text x="97.3" y="361.8" text-anchor="middle">50</text><text x="142.4" y="361.8" text-anchor="middle">100</text><text x="187.5" y="361.8" text-anchor="middle">150</text><text x="232.6" y="361.8" text-anchor="middle">200</text><text x="277.7" y="361.8" text-anchor="middle">250</text><text x="322.8" y="361.8" text-anchor="middle">300</text><text x="367.9" y="361.8" text-anchor="middle">350</text><text x="413" y="361.8" text-anchor="middle">400</text><text x="458.1" y="361.8" text-anchor="middle">450</text><text x="503.2" y="361.8" text-anchor="middle">500</text><text x="525" y="336.95">-20</text><text x="525" y="322.25">-10</text><text x="525" y="307.55">0</text><text x="525" y="292.85">10</text><text x="525" y="278.15">20</text><text x="525" y="263.45">30</text><text x="525" y="248.75">40</text><text x="525" y="355.05">0</text></g><g font-family='"Liberation Serif", "Times New Roman", serif' font-size="8" fill="#161616" stroke="#161616" stroke-width="0.08"><text x="277.5" y="375.6" text-anchor="middle">Data point</text><text transform="translate(12.1,122.8) rotate(-90)" text-anchor="middle" font-size="8">Compressive Strength (MPa)</text><text transform="translate(543.6,299.8) rotate(-90)" text-anchor="middle" font-size="7.25">Error (MPa)</text></g><rect x="422.4" y="9.9" width="77.1" height="32.4" fill="#fff" stroke="#555" stroke-width="0.8"/><line x1="424.2" y1="15.9" x2="441.8" y2="15.9" stroke="#7cc4e6" stroke-width="1"/><polygon points="433,14.1 433.47,15.25 434.71,15.34 433.76,16.15 434.06,17.36 433,16.7 431.94,17.36 432.24,16.15 431.29,15.34 432.53,15.25" fill="#1b8cd2"/><line x1="424.2" y1="25.9" x2="441.8" y2="25.9" stroke="#f5a27a" stroke-width="1"/><rect x="431.6" y="24.5" width="2.8" height="2.8" rx="0.8" fill="#f5501a"/><rect x="423.6" y="31.9" width="18.2" height="8.6" fill="#f9b82a"/><g font-family='"Liberation Serif", "Times New Roman", serif' font-size="8.15" fill="#161616" stroke="#161616" stroke-width="0.08"><text x="444.5" y="18.7">Ture Value</text><text x="444.5" y="28.7">Predictive Value</text><text x="444.5" y="39">Error</text></g><rect x="241.3" y="28" width="68.3" height="312.2" fill="none" stroke="#4b62ee" stroke-width="1.25" stroke-dasharray="4.4 3.3"/><clipPath id="c2"><rect x="32.7" y="386.5" width="489.8" height="305.7"/></clipPath><g clip-path="url(#c2)"><line x1="32.7" y1="654.2" x2="522.5" y2="654.2" stroke="#a0a0a0" stroke-width="1"/><g fill="#f8b620"><rect x="30.6" y="650.26" width="4.2" height="3.94"/><rect x="35.91" y="653.22" width="4.2" height="0.98"/><rect x="41.22" y="650.59" width="4.2" height="3.61"/><rect x="46.53" y="654.2" width="4.2" height="6.72"/><rect x="51.84" y="653.22" width="4.2" height="0.98"/><rect x="57.16" y="652.72" width="4.2" height="1.48"/><rect x="62.47" y="654.2" width="4.2" height="1.48"/><rect x="67.78" y="654.2" width="4.2" height="4.59"/><rect x="73.09" y="644.2" width="4.2" height="10"/><rect x="78.4" y="654.2" width="4.2" height="2.3"/><rect x="83.71" y="653.87" width="4.2" height="0.33"/><rect x="89.02" y="648.95" width="4.2" height="5.25"/><rect x="94.33" y="651.25" width="4.2" height="2.95"/><rect x="99.64" y="654.2" width="4.2" height="1.48"/><rect x="104.96" y="653.38" width="4.2" height="0.82"/><rect x="110.27" y="653.05" width="4.2" height="1.15"/><rect x="115.58" y="653.54" width="4.2" height="0.66"/><rect x="120.89" y="654.2" width="4.2" height="9.51"/><rect x="126.2" y="654.04" width="4.2" height="0.3"/><rect x="131.51" y="654.2" width="4.2" height="6.89"/><rect x="136.82" y="654.04" width="4.2" height="0.3"/><rect x="142.13" y="654.2" width="4.2" height="0.33"/><rect x="147.44" y="654.2" width="4.2" height="0.66"/><rect x="152.75" y="649.12" width="4.2" height="5.08"/><rect x="158.06" y="654.04" width="4.2" height="0.3"/><rect x="163.38" y="654.2" width="4.2" height="6.89"/><rect x="168.69" y="654.2" width="4.2" height="3.28"/><rect x="174" y="652.4" width="4.2" height="1.8"/><rect x="179.31" y="647.8" width="4.2" height="6.4"/><rect x="184.62" y="653.05" width="4.2" height="1.15"/><rect x="189.93" y="652.23" width="4.2" height="1.97"/><rect x="195.24" y="647.31" width="4.2" height="6.89"/><rect x="200.55" y="653.87" width="4.2" height="0.33"/><rect x="205.86" y="654.2" width="4.2" height="1.48"/><rect x="211.18" y="654.2" width="4.2" height="2.95"/><rect x="216.49" y="654.04" width="4.2" height="0.3"/><rect x="221.8" y="654.2" width="4.2" height="2.95"/><rect x="227.11" y="652.4" width="4.2" height="1.8"/><rect x="232.42" y="651.41" width="4.2" height="2.79"/><rect x="237.73" y="654.04" width="4.2" height="0.3"/><rect x="243.04" y="654.2" width="4.2" height="1.48"/><rect x="248.35" y="654.04" width="4.2" height="0.3"/><rect x="253.66" y="654.2" width="4.2" height="25.26"/><rect x="258.97" y="654.04" width="4.2" height="0.3"/><rect x="264.28" y="654.04" width="4.2" height="0.3"/><rect x="269.6" y="654.2" width="4.2" height="5.58"/><rect x="274.91" y="653.54" width="4.2" height="0.66"/><rect x="280.22" y="654.04" width="4.2" height="0.3"/><rect x="285.53" y="648.79" width="4.2" height="5.41"/><rect x="290.84" y="654.2" width="4.2" height="2.46"/><rect x="296.15" y="654.2" width="4.2" height="19.35"/><rect x="301.46" y="654.2" width="4.2" height="7.22"/><rect x="306.77" y="654.2" width="4.2" height="0.33"/><rect x="312.08" y="654.04" width="4.2" height="0.3"/><rect x="317.39" y="654.2" width="4.2" height="3.28"/><rect x="322.71" y="654.2" width="4.2" height="5.58"/><rect x="328.02" y="647.64" width="4.2" height="6.56"/><rect x="333.33" y="650.76" width="4.2" height="3.44"/><rect x="338.64" y="640.1" width="4.2" height="14.1"/><rect x="343.95" y="654.2" width="4.2" height="1.8"/><rect x="349.26" y="654.2" width="4.2" height="15.25"/><rect x="354.57" y="645.18" width="4.2" height="9.02"/><rect x="359.88" y="654.2" width="4.2" height="0.49"/><rect x="365.19" y="653.71" width="4.2" height="0.49"/><rect x="370.5" y="645.67" width="4.2" height="8.53"/><rect x="375.82" y="654.2" width="4.2" height="3.61"/><rect x="381.13" y="652.23" width="4.2" height="1.97"/><rect x="386.44" y="654.2" width="4.2" height="6.56"/><rect x="391.75" y="653.05" width="4.2" height="1.15"/><rect x="397.06" y="654.2" width="4.2" height="16.24"/><rect x="402.37" y="650.76" width="4.2" height="3.44"/><rect x="407.68" y="654.2" width="4.2" height="7.22"/><rect x="412.99" y="654.2" width="4.2" height="2.95"/><rect x="418.3" y="650.76" width="4.2" height="3.44"/><rect x="423.61" y="654.2" width="4.2" height="2.3"/><rect x="428.93" y="654.2" width="4.2" height="0.66"/><rect x="434.24" y="653.05" width="4.2" height="1.15"/><rect x="439.55" y="654.2" width="4.2" height="8.2"/><rect x="444.86" y="654.04" width="4.2" height="0.3"/><rect x="450.17" y="654.2" width="4.2" height="1.8"/><rect x="455.48" y="649.77" width="4.2" height="4.43"/><rect x="460.79" y="654.2" width="4.2" height="2.3"/><rect x="466.1" y="654.2" width="4.2" height="6.56"/><rect x="471.41" y="648.46" width="4.2" height="5.74"/><rect x="476.72" y="654.04" width="4.2" height="0.3"/><rect x="482.04" y="654.2" width="4.2" height="2.62"/><rect x="487.35" y="651.74" width="4.2" height="2.46"/><rect x="492.66" y="649.44" width="4.2" height="4.76"/><rect x="497.97" y="651.25" width="4.2" height="2.95"/><rect x="503.28" y="654.2" width="4.2" height="1.31"/><rect x="508.59" y="654.2" width="4.2" height="1.31"/><rect x="513.9" y="649.44" width="4.2" height="4.76"/><rect x="519.21" y="652.72" width="4.2" height="1.48"/></g><polyline points="32.7,512.6 38.01,507.88 43.32,467.48 48.63,463.83 53.95,502.99 59.26,533.25 64.57,503.61 69.88,503.61 75.19,483.85 80.5,468.64 85.81,493.2 91.12,532.54 96.43,504.41 101.74,511 107.06,477.71 112.37,503.17 117.68,499.61 122.99,539.48 128.3,489.46 133.61,430.37 138.92,504.5 144.23,552.03 149.54,470.5 154.85,482.88 160.16,545.89 165.48,469.7 170.79,475.22 176.1,516.87 181.41,517.23 186.72,497.29 192.03,499.96 197.34,576.33 202.65,487.06 207.96,447.54 213.28,535.39 218.59,466.32 223.9,504.59 229.21,479.85 234.52,510.11 239.83,533.87 245.14,464.19 250.45,497.92 255.76,404.02 261.07,477.18 266.38,482.7 271.7,475.76 277.01,545.62 282.32,543.49 287.63,510.38 292.94,527.46 298.25,482.16 303.56,505.39 308.87,497.92 314.18,526.4 319.5,492.4 324.81,490.08 330.12,534.41 335.43,485.55 340.74,442.74 346.05,497.92 351.36,460.63 356.67,421.38 361.98,496.58 367.29,506.82 372.61,482.16 377.92,494.27 383.23,498.81 388.54,469.53 393.85,483.32 399.16,483.59 404.47,500.68 409.78,451.81 415.09,462.76 420.4,509.04 425.71,485.01 431.03,518.74 436.34,524.17 441.65,460.63 446.96,490.53 452.27,526.4 457.58,502.1 462.89,475.76 468.2,507.88 473.51,511.8 478.82,498.54 484.14,453.15 489.45,511.18 494.76,516.52 500.07,556.03 505.38,481.36 510.69,462.94 516,509.04 521.31,459.82" fill="none" stroke="#2f9fd8" stroke-width="1.0" stroke-linejoin="round"/><g fill="#1a8fd0"><polygon points="32.7,509.8 33.44,511.58 35.36,511.74 33.9,512.99 34.35,514.87 32.7,513.86 31.06,514.87 31.5,512.99 30.04,511.74 31.96,511.58"/><polygon points="38.01,505.08 38.75,506.87 40.67,507.02 39.21,508.27 39.66,510.15 38.01,509.14 36.37,510.15 36.81,508.27 35.35,507.02 37.27,506.87"/><polygon points="43.32,464.68 44.06,466.46 45.99,466.61 44.52,467.87 44.97,469.74 43.32,468.74 41.68,469.74 42.12,467.87 40.66,466.61 42.58,466.46"/><polygon points="48.63,461.03 49.37,462.81 51.3,462.96 49.83,464.22 50.28,466.1 48.63,465.09 46.99,466.1 47.44,464.22 45.97,462.96 47.89,462.81"/><polygon points="53.95,500.19 54.69,501.97 56.61,502.12 55.14,503.38 55.59,505.26 53.95,504.25 52.3,505.26 52.75,503.38 51.28,502.12 53.2,501.97"/><polygon points="59.26,530.45 60,532.23 61.92,532.38 60.45,533.64 60.9,535.52 59.26,534.51 57.61,535.52 58.06,533.64 56.59,532.38 58.52,532.23"/><polygon points="64.57,500.81 65.31,502.59 67.23,502.75 65.77,504 66.21,505.88 64.57,504.87 62.92,505.88 63.37,504 61.9,502.75 63.83,502.59"/><polygon points="69.88,500.81 70.62,502.59 72.54,502.75 71.08,504 71.52,505.88 69.88,504.87 68.23,505.88 68.68,504 67.22,502.75 69.14,502.59"/><polygon points="75.19,481.05 75.93,482.84 77.85,482.99 76.39,484.24 76.83,486.12 75.19,485.11 73.54,486.12 73.99,484.24 72.53,482.99 74.45,482.84"/><polygon points="80.5,465.84 81.24,467.62 83.16,467.77 81.7,469.03 82.15,470.9 80.5,469.9 78.85,470.9 79.3,469.03 77.84,467.77 79.76,467.62"/><polygon points="85.81,490.4 86.55,492.18 88.47,492.33 87.01,493.59 87.46,495.47 85.81,494.46 84.17,495.47 84.61,493.59 83.15,492.33 85.07,492.18"/><polygon points="91.12,529.74 91.86,531.52 93.78,531.67 92.32,532.93 92.77,534.8 91.12,533.8 89.48,534.8 89.92,532.93 88.46,531.67 90.38,531.52"/><polygon points="96.43,501.61 97.17,503.39 99.1,503.55 97.63,504.8 98.08,506.68 96.43,505.67 94.79,506.68 95.23,504.8 93.77,503.55 95.69,503.39"/><polygon points="101.74,508.2 102.48,509.98 104.41,510.13 102.94,511.39 103.39,513.27 101.74,512.26 100.1,513.27 100.55,511.39 99.08,510.13 101,509.98"/><polygon points="107.06,474.91 107.8,476.69 109.72,476.85 108.25,478.1 108.7,479.98 107.06,478.97 105.41,479.98 105.86,478.1 104.39,476.85 106.31,476.69"/><polygon points="112.37,500.37 113.11,502.15 115.03,502.3 113.56,503.56 114.01,505.43 112.37,504.43 110.72,505.43 111.17,503.56 109.7,502.3 111.63,502.15"/><polygon points="117.68,496.81 118.42,498.59 120.34,498.74 118.88,500 119.32,501.87 117.68,500.87 116.03,501.87 116.48,500 115.01,498.74 116.94,498.59"/><polygon points="122.99,536.68 123.73,538.46 125.65,538.61 124.19,539.87 124.63,541.75 122.99,540.74 121.34,541.75 121.79,539.87 120.33,538.61 122.25,538.46"/><polygon points="128.3,486.66 129.04,488.44 130.96,488.6 129.5,489.85 129.94,491.73 128.3,490.72 126.65,491.73 127.1,489.85 125.64,488.6 127.56,488.44"/><polygon points="133.61,427.57 134.35,429.35 136.27,429.5 134.81,430.76 135.26,432.63 133.61,431.63 131.96,432.63 132.41,430.76 130.95,429.5 132.87,429.35"/><polygon points="138.92,501.7 139.66,503.48 141.58,503.64 140.12,504.89 140.57,506.77 138.92,505.76 137.28,506.77 137.72,504.89 136.26,503.64 138.18,503.48"/><polygon points="144.23,549.23 144.97,551.01 146.89,551.16 145.43,552.42 145.88,554.29 144.23,553.29 142.59,554.29 143.03,552.42 141.57,551.16 143.49,551.01"/><polygon points="149.54,467.7 150.28,469.49 152.21,469.64 150.74,470.89 151.19,472.77 149.54,471.76 147.9,472.77 148.34,470.89 146.88,469.64 148.8,469.49"/><polygon points="154.85,480.08 155.59,481.86 157.52,482.01 156.05,483.27 156.5,485.14 154.85,484.14 153.21,485.14 153.66,483.27 152.19,482.01 154.11,481.86"/><polygon points="160.16,543.09 160.91,544.87 162.83,545.02 161.36,546.28 161.81,548.15 160.16,547.15 158.52,548.15 158.97,546.28 157.5,545.02 159.42,544.87"/><polygon points="165.48,466.9 166.22,468.68 168.14,468.84 166.67,470.09 167.12,471.97 165.48,470.96 163.83,471.97 164.28,470.09 162.81,468.84 164.74,468.68"/><polygon points="170.79,472.42 171.53,474.2 173.45,474.36 171.99,475.61 172.43,477.49 170.79,476.48 169.14,477.49 169.59,475.61 168.12,474.36 170.05,474.2"/><polygon points="176.1,514.07 176.84,515.85 178.76,516.01 177.3,517.26 177.74,519.14 176.1,518.13 174.45,519.14 174.9,517.26 173.44,516.01 175.36,515.85"/><polygon points="181.41,514.43 182.15,516.21 184.07,516.36 182.61,517.62 183.05,519.5 181.41,518.49 179.76,519.5 180.21,517.62 178.75,516.36 180.67,516.21"/><polygon points="186.72,494.49 187.46,496.27 189.38,496.43 187.92,497.68 188.37,499.56 186.72,498.55 185.07,499.56 185.52,497.68 184.06,496.43 185.98,496.27"/><polygon points="192.03,497.16 192.77,498.94 194.69,499.1 193.23,500.35 193.68,502.23 192.03,501.22 190.39,502.23 190.83,500.35 189.37,499.1 191.29,498.94"/><polygon points="197.34,573.53 198.08,575.31 200,575.46 198.54,576.72 198.99,578.59 197.34,577.59 195.7,578.59 196.14,576.72 194.68,575.46 196.6,575.31"/><polygon points="202.65,484.26 203.39,486.04 205.32,486.19 203.85,487.45 204.3,489.32 202.65,488.32 201.01,489.32 201.45,487.45 199.99,486.19 201.91,486.04"/><polygon points="207.96,444.74 208.7,446.52 210.63,446.68 209.16,447.93 209.61,449.81 207.96,448.8 206.32,449.81 206.77,447.93 205.3,446.68 207.22,446.52"/><polygon points="213.28,532.59 214.02,534.37 215.94,534.52 214.47,535.78 214.92,537.65 213.28,536.65 211.63,537.65 212.08,535.78 210.61,534.52 212.53,534.37"/><polygon points="218.59,463.52 219.33,465.3 221.25,465.46 219.78,466.71 220.23,468.59 218.59,467.58 216.94,468.59 217.39,466.71 215.92,465.46 217.85,465.3"/><polygon points="223.9,501.79 224.64,503.57 226.56,503.73 225.1,504.98 225.54,506.86 223.9,505.85 222.25,506.86 222.7,504.98 221.23,503.73 223.16,503.57"/><polygon points="229.21,477.05 229.95,478.83 231.87,478.98 230.41,480.24 230.85,482.12 229.21,481.11 227.56,482.12 228.01,480.24 226.55,478.98 228.47,478.83"/><polygon points="234.52,507.31 235.26,509.09 237.18,509.24 235.72,510.5 236.16,512.38 234.52,511.37 232.87,512.38 233.32,510.5 231.86,509.24 233.78,509.09"/><polygon points="239.83,531.07 240.57,532.85 242.49,533.01 241.03,534.26 241.48,536.14 239.83,535.13 238.18,536.14 238.63,534.26 237.17,533.01 239.09,532.85"/><polygon points="245.14,461.39 245.88,463.17 247.8,463.32 246.34,464.58 246.79,466.45 245.14,465.45 243.5,466.45 243.94,464.58 242.48,463.32 244.4,463.17"/><polygon points="250.45,495.12 251.19,496.9 253.11,497.05 251.65,498.31 252.1,500.18 250.45,499.18 248.81,500.18 249.25,498.31 247.79,497.05 249.71,496.9"/><polygon points="255.76,401.22 256.5,403 258.43,403.16 256.96,404.41 257.41,406.29 255.76,405.28 254.12,406.29 254.56,404.41 253.1,403.16 255.02,403"/><polygon points="261.07,474.38 261.81,476.16 263.74,476.31 262.27,477.57 262.72,479.45 261.07,478.44 259.43,479.45 259.88,477.57 258.41,476.31 260.33,476.16"/><polygon points="266.38,479.9 267.13,481.68 269.05,481.83 267.58,483.09 268.03,484.96 266.38,483.96 264.74,484.96 265.19,483.09 263.72,481.83 265.64,481.68"/><polygon points="271.7,472.96 272.44,474.74 274.36,474.89 272.89,476.15 273.34,478.02 271.7,477.02 270.05,478.02 270.5,476.15 269.03,474.89 270.96,474.74"/><polygon points="277.01,542.82 277.75,544.6 279.67,544.76 278.21,546.01 278.65,547.89 277.01,546.88 275.36,547.89 275.81,546.01 274.34,544.76 276.27,544.6"/><polygon points="282.32,540.69 283.06,542.47 284.98,542.62 283.52,543.87 283.96,545.75 282.32,544.75 280.67,545.75 281.12,543.87 279.66,542.62 281.58,542.47"/><polygon points="287.63,507.58 288.37,509.36 290.29,509.51 288.83,510.77 289.27,512.64 287.63,511.64 285.98,512.64 286.43,510.77 284.97,509.51 286.89,509.36"/><polygon points="292.94,524.66 293.68,526.45 295.6,526.6 294.14,527.85 294.59,529.73 292.94,528.72 291.29,529.73 291.74,527.85 290.28,526.6 292.2,526.45"/><polygon points="298.25,479.36 298.99,481.14 300.91,481.3 299.45,482.55 299.9,484.43 298.25,483.42 296.61,484.43 297.05,482.55 295.59,481.3 297.51,481.14"/><polygon points="303.56,502.59 304.3,504.37 306.22,504.53 304.76,505.78 305.21,507.66 303.56,506.65 301.92,507.66 302.36,505.78 300.9,504.53 302.82,504.37"/><polygon points="308.87,495.12 309.61,496.9 311.54,497.05 310.07,498.31 310.52,500.18 308.87,499.18 307.23,500.18 307.67,498.31 306.21,497.05 308.13,496.9"/><polygon points="314.18,523.6 314.92,525.38 316.85,525.53 315.38,526.79 315.83,528.66 314.18,527.66 312.54,528.66 312.99,526.79 311.52,525.53 313.44,525.38"/><polygon points="319.5,489.6 320.24,491.38 322.16,491.53 320.69,492.79 321.14,494.66 319.5,493.66 317.85,494.66 318.3,492.79 316.83,491.53 318.75,491.38"/><polygon points="324.81,487.28 325.55,489.07 327.47,489.22 326,490.47 326.45,492.35 324.81,491.34 323.16,492.35 323.61,490.47 322.14,489.22 324.07,489.07"/><polygon points="330.12,531.61 330.86,533.39 332.78,533.54 331.32,534.8 331.76,536.67 330.12,535.67 328.47,536.67 328.92,534.8 327.45,533.54 329.38,533.39"/><polygon points="335.43,482.75 336.17,484.53 338.09,484.68 336.63,485.94 337.07,487.81 335.43,486.81 333.78,487.81 334.23,485.94 332.77,484.68 334.69,484.53"/><polygon points="340.74,439.94 341.48,441.72 343.4,441.87 341.94,443.13 342.38,445 340.74,444 339.09,445 339.54,443.13 338.08,441.87 340,441.72"/><polygon points="346.05,495.12 346.79,496.9 348.71,497.05 347.25,498.31 347.7,500.18 346.05,499.18 344.4,500.18 344.85,498.31 343.39,497.05 345.31,496.9"/><polygon points="351.36,457.83 352.1,459.61 354.02,459.76 352.56,461.02 353.01,462.89 351.36,461.89 349.72,462.89 350.16,461.02 348.7,459.76 350.62,459.61"/><polygon points="356.67,418.58 357.41,420.36 359.33,420.51 357.87,421.77 358.32,423.64 356.67,422.64 355.03,423.64 355.47,421.77 354.01,420.51 355.93,420.36"/><polygon points="361.98,493.78 362.72,495.56 364.65,495.72 363.18,496.97 363.63,498.85 361.98,497.84 360.34,498.85 360.78,496.97 359.32,495.72 361.24,495.56"/><polygon points="367.29,504.02 368.03,505.8 369.96,505.95 368.49,507.21 368.94,509.08 367.29,508.08 365.65,509.08 366.1,507.21 364.63,505.95 366.55,505.8"/><polygon points="372.61,479.36 373.35,481.14 375.27,481.3 373.8,482.55 374.25,484.43 372.61,483.42 370.96,484.43 371.41,482.55 369.94,481.3 371.86,481.14"/><polygon points="377.92,491.47 378.66,493.25 380.58,493.4 379.11,494.66 379.56,496.53 377.92,495.53 376.27,496.53 376.72,494.66 375.25,493.4 377.18,493.25"/><polygon points="383.23,496.01 383.97,497.79 385.89,497.94 384.43,499.2 384.87,501.07 383.23,500.07 381.58,501.07 382.03,499.2 380.56,497.94 382.49,497.79"/><polygon points="388.54,466.73 389.28,468.51 391.2,468.66 389.74,469.92 390.18,471.79 388.54,470.79 386.89,471.79 387.34,469.92 385.88,468.66 387.8,468.51"/><polygon points="393.85,480.52 394.59,482.3 396.51,482.46 395.05,483.71 395.49,485.59 393.85,484.58 392.2,485.59 392.65,483.71 391.19,482.46 393.11,482.3"/><polygon points="399.16,480.79 399.9,482.57 401.82,482.72 400.36,483.98 400.81,485.85 399.16,484.85 397.51,485.85 397.96,483.98 396.5,482.72 398.42,482.57"/><polygon points="404.47,497.88 405.21,499.66 407.13,499.81 405.67,501.07 406.12,502.94 404.47,501.94 402.83,502.94 403.27,501.07 401.81,499.81 403.73,499.66"/><polygon points="409.78,449.01 410.52,450.8 412.44,450.95 410.98,452.2 411.43,454.08 409.78,453.07 408.14,454.08 408.58,452.2 407.12,450.95 409.04,450.8"/><polygon points="415.09,459.96 415.83,461.74 417.76,461.9 416.29,463.15 416.74,465.03 415.09,464.02 413.45,465.03 413.89,463.15 412.43,461.9 414.35,461.74"/><polygon points="420.4,506.24 421.14,508.02 423.07,508.18 421.6,509.43 422.05,511.31 420.4,510.3 418.76,511.31 419.21,509.43 417.74,508.18 419.66,508.02"/><polygon points="425.71,482.21 426.46,483.99 428.38,484.15 426.91,485.4 427.36,487.28 425.71,486.27 424.07,487.28 424.52,485.4 423.05,484.15 424.97,483.99"/><polygon points="431.03,515.94 431.77,517.72 433.69,517.88 432.22,519.13 432.67,521.01 431.03,520 429.38,521.01 429.83,519.13 428.36,517.88 430.29,517.72"/><polygon points="436.34,521.37 437.08,523.15 439,523.31 437.54,524.56 437.98,526.44 436.34,525.43 434.69,526.44 435.14,524.56 433.67,523.31 435.6,523.15"/><polygon points="441.65,457.83 442.39,459.61 444.31,459.76 442.85,461.02 443.29,462.89 441.65,461.89 440,462.89 440.45,461.02 438.99,459.76 440.91,459.61"/><polygon points="446.96,487.73 447.7,489.51 449.62,489.66 448.16,490.92 448.6,492.8 446.96,491.79 445.31,492.8 445.76,490.92 444.3,489.66 446.22,489.51"/><polygon points="452.27,523.6 453.01,525.38 454.93,525.53 453.47,526.79 453.92,528.66 452.27,527.66 450.62,528.66 451.07,526.79 449.61,525.53 451.53,525.38"/><polygon points="457.58,499.3 458.32,501.08 460.24,501.23 458.78,502.49 459.23,504.37 457.58,503.36 455.94,504.37 456.38,502.49 454.92,501.23 456.84,501.08"/><polygon points="462.89,472.96 463.63,474.74 465.55,474.89 464.09,476.15 464.54,478.02 462.89,477.02 461.25,478.02 461.69,476.15 460.23,474.89 462.15,474.74"/><polygon points="468.2,505.08 468.94,506.87 470.87,507.02 469.4,508.27 469.85,510.15 468.2,509.14 466.56,510.15 467,508.27 465.54,507.02 467.46,506.87"/><polygon points="473.51,509 474.25,510.78 476.18,510.94 474.71,512.19 475.16,514.07 473.51,513.06 471.87,514.07 472.32,512.19 470.85,510.94 472.77,510.78"/><polygon points="478.82,495.74 479.57,497.52 481.49,497.67 480.02,498.93 480.47,500.81 478.82,499.8 477.18,500.81 477.63,498.93 476.16,497.67 478.08,497.52"/><polygon points="484.14,450.35 484.88,452.13 486.8,452.28 485.33,453.54 485.78,455.42 484.14,454.41 482.49,455.42 482.94,453.54 481.47,452.28 483.4,452.13"/><polygon points="489.45,508.38 490.19,510.16 492.11,510.31 490.65,511.57 491.09,513.44 489.45,512.44 487.8,513.44 488.25,511.57 486.78,510.31 488.71,510.16"/><polygon points="494.76,513.72 495.5,515.5 497.42,515.65 495.96,516.91 496.4,518.78 494.76,517.78 493.11,518.78 493.56,516.91 492.1,515.65 494.02,515.5"/><polygon points="500.07,553.23 500.81,555.01 502.73,555.17 501.27,556.42 501.71,558.3 500.07,557.29 498.42,558.3 498.87,556.42 497.41,555.17 499.33,555.01"/><polygon points="505.38,478.56 506.12,480.34 508.04,480.5 506.58,481.75 507.03,483.63 505.38,482.62 503.73,483.63 504.18,481.75 502.72,480.5 504.64,480.34"/><polygon points="510.69,460.14 511.43,461.92 513.35,462.07 511.89,463.33 512.34,465.21 510.69,464.2 509.05,465.21 509.49,463.33 508.03,462.07 509.95,461.92"/><polygon points="516,506.24 516.74,508.02 518.66,508.18 517.2,509.43 517.65,511.31 516,510.3 514.36,511.31 514.8,509.43 513.34,508.18 515.26,508.02"/><polygon points="521.31,457.02 522.05,458.81 523.98,458.96 522.51,460.21 522.96,462.09 521.31,461.08 519.67,462.09 520.11,460.21 518.65,458.96 520.57,458.81"/></g><polyline points="32.7,507.17 38.01,503.61 43.32,454.31 48.63,457.6 53.95,497.65 59.26,532.36 64.57,500.32 69.88,501.21 75.19,469.7 80.5,460.09 85.81,487.41 91.12,529.07 96.43,498.54 101.74,508.69 107.06,468.81 112.37,497.74 117.68,494.18 122.99,546.78 128.3,482.25 133.61,418.8 138.92,499.96 144.23,556.21 149.54,460.8 154.85,472.37 160.16,548.38 165.48,464.1 170.79,468.55 176.1,513.05 181.41,510.38 186.72,490.71 192.03,493.38 197.34,578.82 202.65,478.78 207.96,435.08 213.28,537.61 218.59,456.71 223.9,501.92 229.21,470.06 234.52,505.04 239.83,533.87 245.14,453.68 250.45,491.87 255.76,399.75 261.07,468.37 266.38,474.42 271.7,471.13 277.01,547.4 282.32,545.44 287.63,504.32 292.94,528.27 298.25,486.08 303.56,505.39 308.87,493.02 314.18,525.6 319.5,488.3 324.81,487.41 330.12,530.31 335.43,475.31 340.74,419.24 346.05,494.27 351.36,458.4 356.67,397.88 361.98,491.87 367.29,501.92 372.61,468.9 377.92,490.53 383.23,491.87 388.54,464.81 393.85,475.04 399.16,486.88 404.47,493.2 409.78,443.54 415.09,453.15 420.4,503.52 425.71,479.4 431.03,517.32 436.34,522.84 441.65,454.49 446.96,484.75 452.27,526.4 457.58,495.16 462.89,468.37 468.2,508.42 473.51,504.86 478.82,493.82 484.14,443.18 489.45,506.82 494.76,511.8 500.07,558.17 505.38,473.89 510.69,453.68 516,502.9 521.31,448.17" fill="none" stroke="#f06a2a" stroke-width="1.0" stroke-linejoin="round"/><g fill="#f5501a"><rect x="31.2" y="505.67" width="3" height="3" rx="0.9"/><rect x="36.51" y="502.11" width="3" height="3" rx="0.9"/><rect x="41.82" y="452.81" width="3" height="3" rx="0.9"/><rect x="47.13" y="456.1" width="3" height="3" rx="0.9"/><rect x="52.45" y="496.15" width="3" height="3" rx="0.9"/><rect x="57.76" y="530.86" width="3" height="3" rx="0.9"/><rect x="63.07" y="498.82" width="3" height="3" rx="0.9"/><rect x="68.38" y="499.71" width="3" height="3" rx="0.9"/><rect x="73.69" y="468.2" width="3" height="3" rx="0.9"/><rect x="79" y="458.59" width="3" height="3" rx="0.9"/><rect x="84.31" y="485.91" width="3" height="3" rx="0.9"/><rect x="89.62" y="527.57" width="3" height="3" rx="0.9"/><rect x="94.93" y="497.04" width="3" height="3" rx="0.9"/><rect x="100.24" y="507.19" width="3" height="3" rx="0.9"/><rect x="105.56" y="467.31" width="3" height="3" rx="0.9"/><rect x="110.87" y="496.24" width="3" height="3" rx="0.9"/><rect x="116.18" y="492.68" width="3" height="3" rx="0.9"/><rect x="121.49" y="545.28" width="3" height="3" rx="0.9"/><rect x="126.8" y="480.75" width="3" height="3" rx="0.9"/><rect x="132.11" y="417.3" width="3" height="3" rx="0.9"/><rect x="137.42" y="498.46" width="3" height="3" rx="0.9"/><rect x="142.73" y="554.71" width="3" height="3" rx="0.9"/><rect x="148.04" y="459.3" width="3" height="3" rx="0.9"/><rect x="153.35" y="470.87" width="3" height="3" rx="0.9"/><rect x="158.66" y="546.88" width="3" height="3" rx="0.9"/><rect x="163.98" y="462.6" width="3" height="3" rx="0.9"/><rect x="169.29" y="467.05" width="3" height="3" rx="0.9"/><rect x="174.6" y="511.55" width="3" height="3" rx="0.9"/><rect x="179.91" y="508.88" width="3" height="3" rx="0.9"/><rect x="185.22" y="489.21" width="3" height="3" rx="0.9"/><rect x="190.53" y="491.88" width="3" height="3" rx="0.9"/><rect x="195.84" y="577.32" width="3" height="3" rx="0.9"/><rect x="201.15" y="477.28" width="3" height="3" rx="0.9"/><rect x="206.46" y="433.58" width="3" height="3" rx="0.9"/><rect x="211.78" y="536.11" width="3" height="3" rx="0.9"/><rect x="217.09" y="455.21" width="3" height="3" rx="0.9"/><rect x="222.4" y="500.42" width="3" height="3" rx="0.9"/><rect x="227.71" y="468.56" width="3" height="3" rx="0.9"/><rect x="233.02" y="503.54" width="3" height="3" rx="0.9"/><rect x="238.33" y="532.37" width="3" height="3" rx="0.9"/><rect x="243.64" y="452.18" width="3" height="3" rx="0.9"/><rect x="248.95" y="490.37" width="3" height="3" rx="0.9"/><rect x="254.26" y="398.25" width="3" height="3" rx="0.9"/><rect x="259.57" y="466.87" width="3" height="3" rx="0.9"/><rect x="264.88" y="472.92" width="3" height="3" rx="0.9"/><rect x="270.2" y="469.63" width="3" height="3" rx="0.9"/><rect x="275.51" y="545.9" width="3" height="3" rx="0.9"/><rect x="280.82" y="543.94" width="3" height="3" rx="0.9"/><rect x="286.13" y="502.82" width="3" height="3" rx="0.9"/><rect x="291.44" y="526.77" width="3" height="3" rx="0.9"/><rect x="296.75" y="484.58" width="3" height="3" rx="0.9"/><rect x="302.06" y="503.89" width="3" height="3" rx="0.9"/><rect x="307.37" y="491.52" width="3" height="3" rx="0.9"/><rect x="312.68" y="524.1" width="3" height="3" rx="0.9"/><rect x="318" y="486.8" width="3" height="3" rx="0.9"/><rect x="323.31" y="485.91" width="3" height="3" rx="0.9"/><rect x="328.62" y="528.81" width="3" height="3" rx="0.9"/><rect x="333.93" y="473.81" width="3" height="3" rx="0.9"/><rect x="339.24" y="417.74" width="3" height="3" rx="0.9"/><rect x="344.55" y="492.77" width="3" height="3" rx="0.9"/><rect x="349.86" y="456.9" width="3" height="3" rx="0.9"/><rect x="355.17" y="396.38" width="3" height="3" rx="0.9"/><rect x="360.48" y="490.37" width="3" height="3" rx="0.9"/><rect x="365.79" y="500.42" width="3" height="3" rx="0.9"/><rect x="371.11" y="467.4" width="3" height="3" rx="0.9"/><rect x="376.42" y="489.03" width="3" height="3" rx="0.9"/><rect x="381.73" y="490.37" width="3" height="3" rx="0.9"/><rect x="387.04" y="463.31" width="3" height="3" rx="0.9"/><rect x="392.35" y="473.54" width="3" height="3" rx="0.9"/><rect x="397.66" y="485.38" width="3" height="3" rx="0.9"/><rect x="402.97" y="491.7" width="3" height="3" rx="0.9"/><rect x="408.28" y="442.04" width="3" height="3" rx="0.9"/><rect x="413.59" y="451.65" width="3" height="3" rx="0.9"/><rect x="418.9" y="502.02" width="3" height="3" rx="0.9"/><rect x="424.21" y="477.9" width="3" height="3" rx="0.9"/><rect x="429.53" y="515.82" width="3" height="3" rx="0.9"/><rect x="434.84" y="521.34" width="3" height="3" rx="0.9"/><rect x="440.15" y="452.99" width="3" height="3" rx="0.9"/><rect x="445.46" y="483.25" width="3" height="3" rx="0.9"/><rect x="450.77" y="524.9" width="3" height="3" rx="0.9"/><rect x="456.08" y="493.66" width="3" height="3" rx="0.9"/><rect x="461.39" y="466.87" width="3" height="3" rx="0.9"/><rect x="466.7" y="506.92" width="3" height="3" rx="0.9"/><rect x="472.01" y="503.36" width="3" height="3" rx="0.9"/><rect x="477.32" y="492.32" width="3" height="3" rx="0.9"/><rect x="482.64" y="441.68" width="3" height="3" rx="0.9"/><rect x="487.95" y="505.32" width="3" height="3" rx="0.9"/><rect x="493.26" y="510.3" width="3" height="3" rx="0.9"/><rect x="498.57" y="556.67" width="3" height="3" rx="0.9"/><rect x="503.88" y="472.39" width="3" height="3" rx="0.9"/><rect x="509.19" y="452.18" width="3" height="3" rx="0.9"/><rect x="514.5" y="501.4" width="3" height="3" rx="0.9"/><rect x="519.81" y="446.67" width="3" height="3" rx="0.9"/></g></g><rect x="32.7" y="386.5" width="489.8" height="305.7" fill="none" stroke="#4a4a4a" stroke-width="1.3"/><path d="M32.7 608.9h3 M32.7 564.4h3 M32.7 519.9h3 M32.7 475.4h3 M32.7 430.9h3 M32.7 386.4h3 M32.7 586.65h1.8 M32.7 542.15h1.8 M32.7 497.65h1.8 M32.7 453.15h1.8 M32.7 408.65h1.8 M80.5 692.2v-3 M133.61 692.2v-3 M186.72 692.2v-3 M239.83 692.2v-3 M292.94 692.2v-3 M346.05 692.2v-3 M399.16 692.2v-3 M452.27 692.2v-3 M505.38 692.2v-3 M53.95 692.2v-1.8 M107.06 692.2v-1.8 M160.16 692.2v-1.8 M213.28 692.2v-1.8 M266.38 692.2v-1.8 M319.5 692.2v-1.8 M372.61 692.2v-1.8 M425.71 692.2v-1.8 M478.82 692.2v-1.8 M522.5 687h-3 M522.5 670.6h-3 M522.5 654.2h-3 M522.5 637.8h-3 M522.5 621.4h-3 M522.5 605h-3 M522.5 678.8h-1.8 M522.5 662.4h-1.8 M522.5 646h-1.8 M522.5 629.6h-1.8 M522.5 613.2h-1.8 M522.5 596.8h-1.8" stroke="#4a4a4a" stroke-width="1" fill="none"/><g font-family='"Liberation Serif", "Times New Roman", serif' font-size="7.25" fill="#161616" stroke="#161616" stroke-width="0.08"><text x="30.1" y="611.65" text-anchor="end">0</text><text x="30.1" y="567.15" text-anchor="end">50</text><text x="30.1" y="522.65" text-anchor="end">100</text><text x="30.1" y="478.15" text-anchor="end">150</text><text x="30.1" y="433.65" text-anchor="end">200</text><text x="30.1" y="389.15" text-anchor="end">250</text><text x="80.5" y="701.7" text-anchor="middle">270</text><text x="133.61" y="701.7" text-anchor="middle">280</text><text x="186.72" y="701.7" text-anchor="middle">290</text><text x="239.83" y="701.7" text-anchor="middle">300</text><text x="292.94" y="701.7" text-anchor="middle">310</text><text x="346.05" y="701.7" text-anchor="middle">320</text><text x="399.16" y="701.7" text-anchor="middle">330</text><text x="452.27" y="701.7" text-anchor="middle">340</text><text x="505.38" y="701.7" text-anchor="middle">350</text><text x="526" y="689.75">-20</text><text x="526" y="673.35">-10</text><text x="526" y="656.95">0</text><text x="526" y="640.55">10</text><text x="526" y="624.15">20</text><text x="526" y="607.75">30</text></g><g font-family='"Liberation Serif", "Times New Roman", serif' font-size="8" fill="#161616" stroke="#161616" stroke-width="0.08"><text x="277.7" y="715.8" text-anchor="middle">Data point</text><text transform="translate(13.2,497.6) rotate(-90)" text-anchor="middle" font-size="7.5">Compressive Strength (MPa)</text><text transform="translate(542.3,644.8) rotate(-90)" text-anchor="middle" font-size="7.25">Error (MPa)</text></g><rect x="426.7" y="391.4" width="75.7" height="31.4" fill="#fff" stroke="#555" stroke-width="0.8"/><line x1="427.9" y1="396.3" x2="446.1" y2="396.3" stroke="#7cc4e6" stroke-width="1"/><polygon points="437,394.5 437.47,395.65 438.71,395.74 437.76,396.55 438.06,397.76 437,397.1 435.94,397.76 436.24,396.55 435.29,395.74 436.53,395.65" fill="#1a8fd0"/><line x1="427.9" y1="407" x2="446.1" y2="407" stroke="#f5a27a" stroke-width="1"/><rect x="435.6" y="405.6" width="2.8" height="2.8" rx="0.8" fill="#f5501a"/><rect x="427.9" y="412.9" width="17.7" height="8.7" fill="#f9b82a"/><g font-family='"Liberation Serif", "Times New Roman", serif' font-size="8.15" fill="#161616" stroke="#161616" stroke-width="0.08"><text x="448.5" y="399.1">Ture Value</text><text x="448.5" y="409.8">Predictive Value</text><text x="448.5" y="420">Error</text></g><path d="M246 342.3 L248.4 342.3 L252.4 373.3 L258.4 373.3 L247.2 385.2 L235.8 373.3 L241.9 373.3 Z" fill="#1a6cc6"/></svg></body></html>
